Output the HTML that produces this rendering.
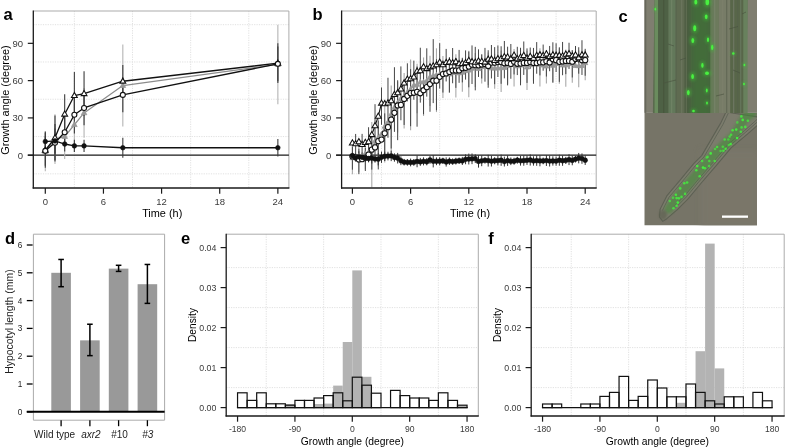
<!DOCTYPE html>
<html><head><meta charset="utf-8"><style>
html,body{margin:0;padding:0;background:#fff;overflow:hidden;}
svg{display:block;}
</style></head><body>
<svg width="785" height="447" viewBox="0 0 785 447" font-family='"Liberation Sans", Arial, sans-serif'>
<rect width="785" height="447" fill="#fff"/>
<line x1="74.37" y1="11.00" x2="74.37" y2="188.00" stroke="#dedede" stroke-width="0.9" stroke-dasharray="1.2,1.2"/>
<line x1="132.51" y1="11.00" x2="132.51" y2="188.00" stroke="#dedede" stroke-width="0.9" stroke-dasharray="1.2,1.2"/>
<line x1="190.65" y1="11.00" x2="190.65" y2="188.00" stroke="#dedede" stroke-width="0.9" stroke-dasharray="1.2,1.2"/>
<line x1="248.79" y1="11.00" x2="248.79" y2="188.00" stroke="#dedede" stroke-width="0.9" stroke-dasharray="1.2,1.2"/>
<line x1="33.30" y1="173.84" x2="288.90" y2="173.84" stroke="#dedede" stroke-width="0.9" stroke-dasharray="1.2,1.2"/>
<line x1="33.30" y1="136.55" x2="288.90" y2="136.55" stroke="#dedede" stroke-width="0.9" stroke-dasharray="1.2,1.2"/>
<line x1="33.30" y1="99.26" x2="288.90" y2="99.26" stroke="#dedede" stroke-width="0.9" stroke-dasharray="1.2,1.2"/>
<line x1="33.30" y1="61.97" x2="288.90" y2="61.97" stroke="#dedede" stroke-width="0.9" stroke-dasharray="1.2,1.2"/>
<line x1="33.30" y1="24.68" x2="288.90" y2="24.68" stroke="#dedede" stroke-width="0.9" stroke-dasharray="1.2,1.2"/>
<line x1="33.30" y1="11.00" x2="288.90" y2="11.00" stroke="#ababab" stroke-width="1.0" />
<line x1="288.90" y1="11.00" x2="288.90" y2="188.00" stroke="#ababab" stroke-width="1.0" />
<line x1="27.80" y1="155.20" x2="288.90" y2="155.20" stroke="#1a1a1a" stroke-width="1.3" />
<text x="3.60" y="20.00" font-size="16.5" fill="#000" text-anchor="start" font-weight="bold">a</text>
<line x1="45.30" y1="131.58" x2="45.30" y2="171.36" stroke="#b4b4b4" stroke-width="1.1" />
<line x1="54.99" y1="114.18" x2="54.99" y2="163.90" stroke="#b4b4b4" stroke-width="1.1" />
<line x1="64.68" y1="114.18" x2="64.68" y2="158.93" stroke="#b4b4b4" stroke-width="1.1" />
<line x1="74.37" y1="97.40" x2="74.37" y2="152.09" stroke="#b4b4b4" stroke-width="1.1" />
<line x1="84.06" y1="88.08" x2="84.06" y2="137.80" stroke="#b4b4b4" stroke-width="1.1" />
<line x1="122.82" y1="44.57" x2="122.82" y2="126.61" stroke="#b4b4b4" stroke-width="1.1" />
<line x1="277.86" y1="24.68" x2="277.86" y2="104.24" stroke="#b4b4b4" stroke-width="1.1" />
<line x1="45.30" y1="132.83" x2="45.30" y2="167.63" stroke="#3c3c3c" stroke-width="1.1" />
<line x1="45.30" y1="135.93" x2="45.30" y2="165.77" stroke="#3c3c3c" stroke-width="1.1" />
<line x1="45.30" y1="131.58" x2="45.30" y2="151.47" stroke="#3c3c3c" stroke-width="1.1" />
<line x1="54.99" y1="115.42" x2="54.99" y2="160.17" stroke="#3c3c3c" stroke-width="1.1" />
<line x1="54.99" y1="124.12" x2="54.99" y2="161.41" stroke="#3c3c3c" stroke-width="1.1" />
<line x1="54.99" y1="128.48" x2="54.99" y2="153.34" stroke="#3c3c3c" stroke-width="1.1" />
<line x1="64.68" y1="94.29" x2="64.68" y2="134.07" stroke="#3c3c3c" stroke-width="1.1" />
<line x1="64.68" y1="117.29" x2="64.68" y2="147.12" stroke="#3c3c3c" stroke-width="1.1" />
<line x1="64.68" y1="136.55" x2="64.68" y2="151.47" stroke="#3c3c3c" stroke-width="1.1" />
<line x1="74.37" y1="71.92" x2="74.37" y2="119.15" stroke="#3c3c3c" stroke-width="1.1" />
<line x1="74.37" y1="96.16" x2="74.37" y2="133.45" stroke="#3c3c3c" stroke-width="1.1" />
<line x1="74.37" y1="139.66" x2="74.37" y2="152.09" stroke="#3c3c3c" stroke-width="1.1" />
<line x1="84.06" y1="71.30" x2="84.06" y2="116.05" stroke="#3c3c3c" stroke-width="1.1" />
<line x1="84.06" y1="90.56" x2="84.06" y2="125.37" stroke="#3c3c3c" stroke-width="1.1" />
<line x1="84.06" y1="139.66" x2="84.06" y2="152.09" stroke="#3c3c3c" stroke-width="1.1" />
<line x1="122.82" y1="65.08" x2="122.82" y2="97.40" stroke="#3c3c3c" stroke-width="1.1" />
<line x1="122.82" y1="77.51" x2="122.82" y2="112.32" stroke="#3c3c3c" stroke-width="1.1" />
<line x1="122.82" y1="137.80" x2="122.82" y2="157.69" stroke="#3c3c3c" stroke-width="1.1" />
<line x1="277.86" y1="43.33" x2="277.86" y2="83.11" stroke="#3c3c3c" stroke-width="1.1" />
<line x1="277.86" y1="46.44" x2="277.86" y2="81.24" stroke="#3c3c3c" stroke-width="1.1" />
<line x1="277.86" y1="139.04" x2="277.86" y2="156.44" stroke="#3c3c3c" stroke-width="1.1" />
<polyline points="45.30,151.47 54.99,139.04 64.68,136.55 74.37,124.75 84.06,112.94 122.82,85.59 277.86,64.46" fill="none" stroke="#8c8c8c" stroke-width="1.2" stroke-linejoin="round"/>
<polyline points="45.30,141.53 54.99,140.91 64.68,144.01 74.37,145.88 84.06,145.88 122.82,147.74 277.86,147.74" fill="none" stroke="#111" stroke-width="1.3" stroke-linejoin="round"/>
<polyline points="45.30,150.85 54.99,142.77 64.68,132.20 74.37,114.80 84.06,107.97 122.82,94.91 277.86,63.84" fill="none" stroke="#111" stroke-width="1.3" stroke-linejoin="round"/>
<polyline points="45.30,150.23 54.99,137.80 64.68,114.18 74.37,95.54 84.06,93.67 122.82,81.24 277.86,63.22" fill="none" stroke="#111" stroke-width="1.3" stroke-linejoin="round"/>
<polygon points="45.30,148.46 42.50,153.31 48.10,153.31" fill="#999" stroke="#999" stroke-width="0.8" stroke-linejoin="miter"/>
<polygon points="54.99,136.03 52.19,140.88 57.79,140.88" fill="#999" stroke="#999" stroke-width="0.8" stroke-linejoin="miter"/>
<polygon points="64.68,133.55 61.88,138.40 67.48,138.40" fill="#999" stroke="#999" stroke-width="0.8" stroke-linejoin="miter"/>
<polygon points="74.37,121.74 71.57,126.59 77.17,126.59" fill="#999" stroke="#999" stroke-width="0.8" stroke-linejoin="miter"/>
<polygon points="84.06,109.93 81.26,114.78 86.86,114.78" fill="#999" stroke="#999" stroke-width="0.8" stroke-linejoin="miter"/>
<polygon points="122.82,82.59 120.02,87.43 125.62,87.43" fill="#999" stroke="#999" stroke-width="0.8" stroke-linejoin="miter"/>
<polygon points="277.86,61.45 275.06,66.30 280.66,66.30" fill="#999" stroke="#999" stroke-width="0.8" stroke-linejoin="miter"/>
<polygon points="45.30,147.11 42.40,152.14 48.20,152.14" fill="#fff" stroke="#111" stroke-width="1.1" stroke-linejoin="miter"/>
<polygon points="54.99,134.68 52.09,139.71 57.89,139.71" fill="#fff" stroke="#111" stroke-width="1.1" stroke-linejoin="miter"/>
<polygon points="64.68,111.07 61.78,116.09 67.58,116.09" fill="#fff" stroke="#111" stroke-width="1.1" stroke-linejoin="miter"/>
<polygon points="74.37,92.42 71.47,97.44 77.27,97.44" fill="#fff" stroke="#111" stroke-width="1.1" stroke-linejoin="miter"/>
<polygon points="84.06,90.56 81.16,95.58 86.96,95.58" fill="#fff" stroke="#111" stroke-width="1.1" stroke-linejoin="miter"/>
<polygon points="122.82,78.13 119.92,83.15 125.72,83.15" fill="#fff" stroke="#111" stroke-width="1.1" stroke-linejoin="miter"/>
<polygon points="277.86,60.10 274.96,65.13 280.76,65.13" fill="#fff" stroke="#111" stroke-width="1.1" stroke-linejoin="miter"/>
<circle cx="45.30" cy="150.85" r="2.5" fill="#fff" stroke="#111" stroke-width="1.1"/>
<circle cx="54.99" cy="142.77" r="2.5" fill="#fff" stroke="#111" stroke-width="1.1"/>
<circle cx="64.68" cy="132.20" r="2.5" fill="#fff" stroke="#111" stroke-width="1.1"/>
<circle cx="74.37" cy="114.80" r="2.5" fill="#fff" stroke="#111" stroke-width="1.1"/>
<circle cx="84.06" cy="107.97" r="2.5" fill="#fff" stroke="#111" stroke-width="1.1"/>
<circle cx="122.82" cy="94.91" r="2.5" fill="#fff" stroke="#111" stroke-width="1.1"/>
<circle cx="277.86" cy="63.84" r="2.5" fill="#fff" stroke="#111" stroke-width="1.1"/>
<circle cx="45.30" cy="141.53" r="2.3" fill="#111" stroke="#111" stroke-width="0.6"/>
<circle cx="54.99" cy="140.91" r="2.3" fill="#111" stroke="#111" stroke-width="0.6"/>
<circle cx="64.68" cy="144.01" r="2.3" fill="#111" stroke="#111" stroke-width="0.6"/>
<circle cx="74.37" cy="145.88" r="2.3" fill="#111" stroke="#111" stroke-width="0.6"/>
<circle cx="84.06" cy="145.88" r="2.3" fill="#111" stroke="#111" stroke-width="0.6"/>
<circle cx="122.82" cy="147.74" r="2.3" fill="#111" stroke="#111" stroke-width="0.6"/>
<circle cx="277.86" cy="147.74" r="2.3" fill="#111" stroke="#111" stroke-width="0.6"/>
<line x1="33.30" y1="10.50" x2="33.30" y2="188.60" stroke="#1a1a1a" stroke-width="1.3" />
<line x1="32.70" y1="188.00" x2="289.40" y2="188.00" stroke="#1a1a1a" stroke-width="1.3" />
<line x1="27.80" y1="155.20" x2="33.30" y2="155.20" stroke="#1a1a1a" stroke-width="1.2" />
<text x="23.00" y="158.70" font-size="9.5" fill="#3a3a3a" text-anchor="end" >0</text>
<line x1="27.80" y1="117.91" x2="33.30" y2="117.91" stroke="#1a1a1a" stroke-width="1.2" />
<text x="23.00" y="121.41" font-size="9.5" fill="#3a3a3a" text-anchor="end" >30</text>
<line x1="27.80" y1="80.62" x2="33.30" y2="80.62" stroke="#1a1a1a" stroke-width="1.2" />
<text x="23.00" y="84.12" font-size="9.5" fill="#3a3a3a" text-anchor="end" >60</text>
<line x1="27.80" y1="43.33" x2="33.30" y2="43.33" stroke="#1a1a1a" stroke-width="1.2" />
<text x="23.00" y="46.83" font-size="9.5" fill="#3a3a3a" text-anchor="end" >90</text>
<line x1="45.30" y1="188.00" x2="45.30" y2="193.70" stroke="#1a1a1a" stroke-width="1.2" />
<text x="45.30" y="205.40" font-size="9.5" fill="#3a3a3a" text-anchor="middle" >0</text>
<line x1="103.44" y1="188.00" x2="103.44" y2="193.70" stroke="#1a1a1a" stroke-width="1.2" />
<text x="103.44" y="205.40" font-size="9.5" fill="#3a3a3a" text-anchor="middle" >6</text>
<line x1="161.58" y1="188.00" x2="161.58" y2="193.70" stroke="#1a1a1a" stroke-width="1.2" />
<text x="161.58" y="205.40" font-size="9.5" fill="#3a3a3a" text-anchor="middle" >12</text>
<line x1="219.72" y1="188.00" x2="219.72" y2="193.70" stroke="#1a1a1a" stroke-width="1.2" />
<text x="219.72" y="205.40" font-size="9.5" fill="#3a3a3a" text-anchor="middle" >18</text>
<line x1="277.86" y1="188.00" x2="277.86" y2="193.70" stroke="#1a1a1a" stroke-width="1.2" />
<text x="277.86" y="205.40" font-size="9.5" fill="#3a3a3a" text-anchor="middle" >24</text>
<text x="162.20" y="217.30" font-size="10.9" fill="#000" text-anchor="middle" >Time (h)</text>
<text transform="translate(9.0,100.0) rotate(-90)" font-size="10.95" text-anchor="middle" fill="#000">Growth angle (degree)</text>
<line x1="381.50" y1="11.00" x2="381.50" y2="188.00" stroke="#dedede" stroke-width="0.9" stroke-dasharray="1.2,1.2"/>
<line x1="439.70" y1="11.00" x2="439.70" y2="188.00" stroke="#dedede" stroke-width="0.9" stroke-dasharray="1.2,1.2"/>
<line x1="497.90" y1="11.00" x2="497.90" y2="188.00" stroke="#dedede" stroke-width="0.9" stroke-dasharray="1.2,1.2"/>
<line x1="556.10" y1="11.00" x2="556.10" y2="188.00" stroke="#dedede" stroke-width="0.9" stroke-dasharray="1.2,1.2"/>
<line x1="341.60" y1="173.84" x2="596.20" y2="173.84" stroke="#dedede" stroke-width="0.9" stroke-dasharray="1.2,1.2"/>
<line x1="341.60" y1="136.55" x2="596.20" y2="136.55" stroke="#dedede" stroke-width="0.9" stroke-dasharray="1.2,1.2"/>
<line x1="341.60" y1="99.26" x2="596.20" y2="99.26" stroke="#dedede" stroke-width="0.9" stroke-dasharray="1.2,1.2"/>
<line x1="341.60" y1="61.97" x2="596.20" y2="61.97" stroke="#dedede" stroke-width="0.9" stroke-dasharray="1.2,1.2"/>
<line x1="341.60" y1="24.68" x2="596.20" y2="24.68" stroke="#dedede" stroke-width="0.9" stroke-dasharray="1.2,1.2"/>
<line x1="341.60" y1="11.00" x2="596.20" y2="11.00" stroke="#ababab" stroke-width="1.0" />
<line x1="596.20" y1="11.00" x2="596.20" y2="188.00" stroke="#ababab" stroke-width="1.0" />
<line x1="336.10" y1="155.20" x2="596.20" y2="155.20" stroke="#1a1a1a" stroke-width="1.3" />
<text x="312.60" y="20.00" font-size="16.5" fill="#000" text-anchor="start" font-weight="bold">b</text>
<line x1="352.40" y1="146.09" x2="352.40" y2="174.35" stroke="#a9a9a9" stroke-width="1.1" />
<line x1="358.87" y1="144.80" x2="358.87" y2="172.33" stroke="#a9a9a9" stroke-width="1.1" />
<line x1="365.33" y1="142.02" x2="365.33" y2="169.56" stroke="#a9a9a9" stroke-width="1.1" />
<line x1="371.80" y1="122.01" x2="371.80" y2="187.35" stroke="#a9a9a9" stroke-width="1.1" />
<line x1="378.27" y1="116.94" x2="378.27" y2="166.23" stroke="#a9a9a9" stroke-width="1.1" />
<line x1="384.73" y1="100.27" x2="384.73" y2="162.45" stroke="#a9a9a9" stroke-width="1.1" />
<line x1="391.20" y1="85.50" x2="391.20" y2="153.36" stroke="#a9a9a9" stroke-width="1.1" />
<line x1="397.67" y1="81.43" x2="397.67" y2="132.38" stroke="#a9a9a9" stroke-width="1.1" />
<line x1="404.13" y1="73.06" x2="404.13" y2="128.56" stroke="#a9a9a9" stroke-width="1.1" />
<line x1="410.60" y1="59.60" x2="410.60" y2="130.19" stroke="#a9a9a9" stroke-width="1.1" />
<line x1="417.07" y1="63.82" x2="417.07" y2="113.28" stroke="#a9a9a9" stroke-width="1.1" />
<line x1="423.53" y1="57.45" x2="423.53" y2="115.95" stroke="#a9a9a9" stroke-width="1.1" />
<line x1="430.00" y1="55.78" x2="430.00" y2="106.12" stroke="#a9a9a9" stroke-width="1.1" />
<line x1="436.47" y1="48.31" x2="436.47" y2="112.08" stroke="#a9a9a9" stroke-width="1.1" />
<line x1="442.93" y1="55.89" x2="442.93" y2="98.02" stroke="#a9a9a9" stroke-width="1.1" />
<line x1="449.40" y1="60.52" x2="449.40" y2="92.97" stroke="#a9a9a9" stroke-width="1.1" />
<line x1="455.87" y1="54.19" x2="455.87" y2="97.58" stroke="#a9a9a9" stroke-width="1.1" />
<line x1="462.33" y1="58.42" x2="462.33" y2="91.70" stroke="#a9a9a9" stroke-width="1.1" />
<line x1="468.80" y1="50.81" x2="468.80" y2="97.17" stroke="#a9a9a9" stroke-width="1.1" />
<line x1="475.27" y1="52.89" x2="475.27" y2="86.90" stroke="#a9a9a9" stroke-width="1.1" />
<line x1="481.73" y1="54.57" x2="481.73" y2="83.54" stroke="#a9a9a9" stroke-width="1.1" />
<line x1="488.20" y1="52.43" x2="488.20" y2="85.09" stroke="#a9a9a9" stroke-width="1.1" />
<line x1="494.67" y1="53.64" x2="494.67" y2="88.71" stroke="#a9a9a9" stroke-width="1.1" />
<line x1="501.13" y1="50.54" x2="501.13" y2="91.94" stroke="#a9a9a9" stroke-width="1.1" />
<line x1="507.60" y1="52.93" x2="507.60" y2="83.65" stroke="#a9a9a9" stroke-width="1.1" />
<line x1="514.07" y1="49.09" x2="514.07" y2="86.52" stroke="#a9a9a9" stroke-width="1.1" />
<line x1="520.53" y1="52.81" x2="520.53" y2="82.57" stroke="#a9a9a9" stroke-width="1.1" />
<line x1="527.00" y1="50.70" x2="527.00" y2="90.01" stroke="#a9a9a9" stroke-width="1.1" />
<line x1="533.47" y1="51.55" x2="533.47" y2="81.04" stroke="#a9a9a9" stroke-width="1.1" />
<line x1="539.93" y1="48.17" x2="539.93" y2="86.62" stroke="#a9a9a9" stroke-width="1.1" />
<line x1="546.40" y1="53.79" x2="546.40" y2="83.46" stroke="#a9a9a9" stroke-width="1.1" />
<line x1="552.87" y1="53.22" x2="552.87" y2="82.63" stroke="#a9a9a9" stroke-width="1.1" />
<line x1="559.33" y1="48.14" x2="559.33" y2="83.71" stroke="#a9a9a9" stroke-width="1.1" />
<line x1="565.80" y1="49.49" x2="565.80" y2="86.65" stroke="#a9a9a9" stroke-width="1.1" />
<line x1="572.27" y1="50.10" x2="572.27" y2="82.71" stroke="#a9a9a9" stroke-width="1.1" />
<line x1="578.73" y1="50.49" x2="578.73" y2="87.23" stroke="#a9a9a9" stroke-width="1.1" />
<line x1="585.20" y1="50.28" x2="585.20" y2="80.37" stroke="#a9a9a9" stroke-width="1.1" />
<line x1="352.40" y1="146.88" x2="352.40" y2="169.65" stroke="#454545" stroke-width="1.0" />
<line x1="352.40" y1="152.57" x2="352.40" y2="159.10" stroke="#333" stroke-width="1.0" />
<line x1="355.63" y1="133.94" x2="355.63" y2="157.45" stroke="#454545" stroke-width="1.0" />
<line x1="355.63" y1="153.48" x2="355.63" y2="161.64" stroke="#333" stroke-width="1.0" />
<line x1="358.87" y1="148.74" x2="358.87" y2="174.13" stroke="#454545" stroke-width="1.0" />
<line x1="358.87" y1="151.32" x2="358.87" y2="162.26" stroke="#333" stroke-width="1.0" />
<line x1="362.10" y1="133.88" x2="362.10" y2="158.99" stroke="#454545" stroke-width="1.0" />
<line x1="362.10" y1="152.57" x2="362.10" y2="161.89" stroke="#333" stroke-width="1.0" />
<line x1="365.33" y1="147.92" x2="365.33" y2="171.00" stroke="#454545" stroke-width="1.0" />
<line x1="365.33" y1="153.68" x2="365.33" y2="162.06" stroke="#333" stroke-width="1.0" />
<line x1="368.57" y1="127.23" x2="368.57" y2="161.80" stroke="#454545" stroke-width="1.0" />
<line x1="368.57" y1="154.59" x2="368.57" y2="162.37" stroke="#333" stroke-width="1.0" />
<line x1="371.80" y1="135.10" x2="371.80" y2="169.59" stroke="#454545" stroke-width="1.0" />
<line x1="371.80" y1="152.70" x2="371.80" y2="163.47" stroke="#333" stroke-width="1.0" />
<line x1="375.03" y1="104.18" x2="375.03" y2="155.37" stroke="#454545" stroke-width="1.0" />
<line x1="375.03" y1="155.22" x2="375.03" y2="162.61" stroke="#333" stroke-width="1.0" />
<line x1="378.27" y1="120.63" x2="378.27" y2="169.44" stroke="#454545" stroke-width="1.0" />
<line x1="378.27" y1="153.14" x2="378.27" y2="165.16" stroke="#333" stroke-width="1.0" />
<line x1="381.50" y1="87.45" x2="381.50" y2="124.77" stroke="#454545" stroke-width="1.0" />
<line x1="381.50" y1="151.59" x2="381.50" y2="162.90" stroke="#333" stroke-width="1.0" />
<line x1="384.73" y1="113.37" x2="384.73" y2="160.85" stroke="#454545" stroke-width="1.0" />
<line x1="384.73" y1="151.67" x2="384.73" y2="160.96" stroke="#333" stroke-width="1.0" />
<line x1="387.97" y1="77.76" x2="387.97" y2="137.78" stroke="#454545" stroke-width="1.0" />
<line x1="387.97" y1="151.75" x2="387.97" y2="160.41" stroke="#333" stroke-width="1.0" />
<line x1="391.20" y1="98.71" x2="391.20" y2="148.51" stroke="#454545" stroke-width="1.0" />
<line x1="391.20" y1="150.65" x2="391.20" y2="161.14" stroke="#333" stroke-width="1.0" />
<line x1="394.43" y1="67.23" x2="394.43" y2="131.86" stroke="#454545" stroke-width="1.0" />
<line x1="394.43" y1="153.33" x2="394.43" y2="161.68" stroke="#333" stroke-width="1.0" />
<line x1="397.67" y1="80.22" x2="397.67" y2="140.17" stroke="#454545" stroke-width="1.0" />
<line x1="397.67" y1="152.89" x2="397.67" y2="163.49" stroke="#333" stroke-width="1.0" />
<line x1="400.90" y1="66.40" x2="400.90" y2="120.24" stroke="#454545" stroke-width="1.0" />
<line x1="400.90" y1="156.40" x2="400.90" y2="165.13" stroke="#333" stroke-width="1.0" />
<line x1="404.13" y1="80.11" x2="404.13" y2="124.95" stroke="#454545" stroke-width="1.0" />
<line x1="404.13" y1="158.92" x2="404.13" y2="165.47" stroke="#333" stroke-width="1.0" />
<line x1="407.37" y1="63.30" x2="407.37" y2="101.36" stroke="#454545" stroke-width="1.0" />
<line x1="407.37" y1="159.00" x2="407.37" y2="165.65" stroke="#333" stroke-width="1.0" />
<line x1="410.60" y1="69.11" x2="410.60" y2="126.21" stroke="#454545" stroke-width="1.0" />
<line x1="410.60" y1="158.55" x2="410.60" y2="166.35" stroke="#333" stroke-width="1.0" />
<line x1="413.83" y1="60.61" x2="413.83" y2="99.71" stroke="#454545" stroke-width="1.0" />
<line x1="413.83" y1="158.98" x2="413.83" y2="165.72" stroke="#333" stroke-width="1.0" />
<line x1="417.07" y1="66.46" x2="417.07" y2="126.69" stroke="#454545" stroke-width="1.0" />
<line x1="417.07" y1="155.64" x2="417.07" y2="167.26" stroke="#333" stroke-width="1.0" />
<line x1="420.30" y1="47.72" x2="420.30" y2="102.63" stroke="#454545" stroke-width="1.0" />
<line x1="420.30" y1="157.91" x2="420.30" y2="165.88" stroke="#333" stroke-width="1.0" />
<line x1="423.53" y1="72.71" x2="423.53" y2="114.27" stroke="#454545" stroke-width="1.0" />
<line x1="423.53" y1="157.35" x2="423.53" y2="165.39" stroke="#333" stroke-width="1.0" />
<line x1="426.77" y1="48.30" x2="426.77" y2="96.63" stroke="#454545" stroke-width="1.0" />
<line x1="426.77" y1="158.14" x2="426.77" y2="165.33" stroke="#333" stroke-width="1.0" />
<line x1="430.00" y1="63.88" x2="430.00" y2="111.79" stroke="#454545" stroke-width="1.0" />
<line x1="430.00" y1="156.05" x2="430.00" y2="163.90" stroke="#333" stroke-width="1.0" />
<line x1="433.23" y1="39.11" x2="433.23" y2="103.10" stroke="#454545" stroke-width="1.0" />
<line x1="433.23" y1="155.16" x2="433.23" y2="167.42" stroke="#333" stroke-width="1.0" />
<line x1="436.47" y1="59.19" x2="436.47" y2="110.26" stroke="#454545" stroke-width="1.0" />
<line x1="436.47" y1="157.42" x2="436.47" y2="165.16" stroke="#333" stroke-width="1.0" />
<line x1="439.70" y1="43.13" x2="439.70" y2="88.54" stroke="#454545" stroke-width="1.0" />
<line x1="439.70" y1="157.18" x2="439.70" y2="165.32" stroke="#333" stroke-width="1.0" />
<line x1="442.93" y1="60.60" x2="442.93" y2="92.56" stroke="#454545" stroke-width="1.0" />
<line x1="442.93" y1="157.71" x2="442.93" y2="163.93" stroke="#333" stroke-width="1.0" />
<line x1="446.17" y1="48.92" x2="446.17" y2="81.44" stroke="#454545" stroke-width="1.0" />
<line x1="446.17" y1="157.40" x2="446.17" y2="166.57" stroke="#333" stroke-width="1.0" />
<line x1="449.40" y1="57.16" x2="449.40" y2="92.35" stroke="#454545" stroke-width="1.0" />
<line x1="449.40" y1="157.47" x2="449.40" y2="164.94" stroke="#333" stroke-width="1.0" />
<line x1="452.63" y1="48.03" x2="452.63" y2="83.26" stroke="#454545" stroke-width="1.0" />
<line x1="452.63" y1="158.50" x2="452.63" y2="164.74" stroke="#333" stroke-width="1.0" />
<line x1="455.87" y1="57.94" x2="455.87" y2="87.87" stroke="#454545" stroke-width="1.0" />
<line x1="455.87" y1="157.76" x2="455.87" y2="164.53" stroke="#333" stroke-width="1.0" />
<line x1="459.10" y1="49.92" x2="459.10" y2="82.83" stroke="#454545" stroke-width="1.0" />
<line x1="459.10" y1="157.51" x2="459.10" y2="163.98" stroke="#333" stroke-width="1.0" />
<line x1="462.33" y1="57.79" x2="462.33" y2="82.38" stroke="#454545" stroke-width="1.0" />
<line x1="462.33" y1="156.90" x2="462.33" y2="165.01" stroke="#333" stroke-width="1.0" />
<line x1="465.57" y1="50.38" x2="465.57" y2="79.61" stroke="#454545" stroke-width="1.0" />
<line x1="465.57" y1="154.39" x2="465.57" y2="164.25" stroke="#333" stroke-width="1.0" />
<line x1="468.80" y1="51.55" x2="468.80" y2="87.32" stroke="#454545" stroke-width="1.0" />
<line x1="468.80" y1="153.59" x2="468.80" y2="164.47" stroke="#333" stroke-width="1.0" />
<line x1="472.03" y1="45.42" x2="472.03" y2="84.03" stroke="#454545" stroke-width="1.0" />
<line x1="472.03" y1="153.49" x2="472.03" y2="164.15" stroke="#333" stroke-width="1.0" />
<line x1="475.27" y1="46.85" x2="475.27" y2="90.35" stroke="#454545" stroke-width="1.0" />
<line x1="475.27" y1="154.40" x2="475.27" y2="163.04" stroke="#333" stroke-width="1.0" />
<line x1="478.50" y1="49.35" x2="478.50" y2="76.96" stroke="#454545" stroke-width="1.0" />
<line x1="478.50" y1="155.28" x2="478.50" y2="167.61" stroke="#333" stroke-width="1.0" />
<line x1="481.73" y1="54.35" x2="481.73" y2="78.52" stroke="#454545" stroke-width="1.0" />
<line x1="481.73" y1="155.49" x2="481.73" y2="166.20" stroke="#333" stroke-width="1.0" />
<line x1="484.97" y1="47.90" x2="484.97" y2="81.69" stroke="#454545" stroke-width="1.0" />
<line x1="484.97" y1="157.10" x2="484.97" y2="163.59" stroke="#333" stroke-width="1.0" />
<line x1="488.20" y1="50.23" x2="488.20" y2="87.76" stroke="#454545" stroke-width="1.0" />
<line x1="488.20" y1="154.80" x2="488.20" y2="166.56" stroke="#333" stroke-width="1.0" />
<line x1="491.43" y1="45.00" x2="491.43" y2="78.48" stroke="#454545" stroke-width="1.0" />
<line x1="491.43" y1="155.75" x2="491.43" y2="166.53" stroke="#333" stroke-width="1.0" />
<line x1="494.67" y1="47.12" x2="494.67" y2="84.20" stroke="#454545" stroke-width="1.0" />
<line x1="494.67" y1="157.22" x2="494.67" y2="164.30" stroke="#333" stroke-width="1.0" />
<line x1="497.90" y1="45.50" x2="497.90" y2="76.96" stroke="#454545" stroke-width="1.0" />
<line x1="497.90" y1="156.01" x2="497.90" y2="165.36" stroke="#333" stroke-width="1.0" />
<line x1="501.13" y1="46.28" x2="501.13" y2="83.80" stroke="#454545" stroke-width="1.0" />
<line x1="501.13" y1="154.62" x2="501.13" y2="165.84" stroke="#333" stroke-width="1.0" />
<line x1="504.37" y1="40.98" x2="504.37" y2="78.33" stroke="#454545" stroke-width="1.0" />
<line x1="504.37" y1="156.65" x2="504.37" y2="166.50" stroke="#333" stroke-width="1.0" />
<line x1="507.60" y1="46.70" x2="507.60" y2="85.35" stroke="#454545" stroke-width="1.0" />
<line x1="507.60" y1="155.44" x2="507.60" y2="165.90" stroke="#333" stroke-width="1.0" />
<line x1="510.83" y1="44.00" x2="510.83" y2="78.77" stroke="#454545" stroke-width="1.0" />
<line x1="510.83" y1="157.47" x2="510.83" y2="165.12" stroke="#333" stroke-width="1.0" />
<line x1="514.07" y1="52.58" x2="514.07" y2="74.44" stroke="#454545" stroke-width="1.0" />
<line x1="514.07" y1="157.72" x2="514.07" y2="164.76" stroke="#333" stroke-width="1.0" />
<line x1="517.30" y1="46.80" x2="517.30" y2="75.09" stroke="#454545" stroke-width="1.0" />
<line x1="517.30" y1="156.82" x2="517.30" y2="163.69" stroke="#333" stroke-width="1.0" />
<line x1="520.53" y1="47.78" x2="520.53" y2="85.32" stroke="#454545" stroke-width="1.0" />
<line x1="520.53" y1="155.94" x2="520.53" y2="165.62" stroke="#333" stroke-width="1.0" />
<line x1="523.77" y1="41.48" x2="523.77" y2="74.96" stroke="#454545" stroke-width="1.0" />
<line x1="523.77" y1="155.62" x2="523.77" y2="165.72" stroke="#333" stroke-width="1.0" />
<line x1="527.00" y1="48.39" x2="527.00" y2="82.91" stroke="#454545" stroke-width="1.0" />
<line x1="527.00" y1="155.65" x2="527.00" y2="164.90" stroke="#333" stroke-width="1.0" />
<line x1="530.23" y1="47.52" x2="530.23" y2="68.84" stroke="#454545" stroke-width="1.0" />
<line x1="530.23" y1="154.42" x2="530.23" y2="165.59" stroke="#333" stroke-width="1.0" />
<line x1="533.47" y1="47.93" x2="533.47" y2="83.77" stroke="#454545" stroke-width="1.0" />
<line x1="533.47" y1="156.30" x2="533.47" y2="165.64" stroke="#333" stroke-width="1.0" />
<line x1="536.70" y1="42.08" x2="536.70" y2="73.76" stroke="#454545" stroke-width="1.0" />
<line x1="536.70" y1="155.51" x2="536.70" y2="165.82" stroke="#333" stroke-width="1.0" />
<line x1="539.93" y1="52.85" x2="539.93" y2="75.39" stroke="#454545" stroke-width="1.0" />
<line x1="539.93" y1="155.51" x2="539.93" y2="166.30" stroke="#333" stroke-width="1.0" />
<line x1="543.17" y1="44.55" x2="543.17" y2="70.72" stroke="#454545" stroke-width="1.0" />
<line x1="543.17" y1="157.59" x2="543.17" y2="164.26" stroke="#333" stroke-width="1.0" />
<line x1="546.40" y1="50.11" x2="546.40" y2="76.54" stroke="#454545" stroke-width="1.0" />
<line x1="546.40" y1="155.22" x2="546.40" y2="165.97" stroke="#333" stroke-width="1.0" />
<line x1="549.63" y1="45.96" x2="549.63" y2="71.21" stroke="#454545" stroke-width="1.0" />
<line x1="549.63" y1="155.70" x2="549.63" y2="166.51" stroke="#333" stroke-width="1.0" />
<line x1="552.87" y1="42.28" x2="552.87" y2="82.54" stroke="#454545" stroke-width="1.0" />
<line x1="552.87" y1="156.33" x2="552.87" y2="165.62" stroke="#333" stroke-width="1.0" />
<line x1="556.10" y1="43.25" x2="556.10" y2="71.96" stroke="#454545" stroke-width="1.0" />
<line x1="556.10" y1="156.52" x2="556.10" y2="165.71" stroke="#333" stroke-width="1.0" />
<line x1="559.33" y1="47.28" x2="559.33" y2="81.85" stroke="#454545" stroke-width="1.0" />
<line x1="559.33" y1="154.74" x2="559.33" y2="165.72" stroke="#333" stroke-width="1.0" />
<line x1="562.57" y1="41.94" x2="562.57" y2="75.22" stroke="#454545" stroke-width="1.0" />
<line x1="562.57" y1="155.63" x2="562.57" y2="165.84" stroke="#333" stroke-width="1.0" />
<line x1="565.80" y1="51.41" x2="565.80" y2="74.17" stroke="#454545" stroke-width="1.0" />
<line x1="565.80" y1="156.85" x2="565.80" y2="163.98" stroke="#333" stroke-width="1.0" />
<line x1="569.03" y1="42.74" x2="569.03" y2="68.94" stroke="#454545" stroke-width="1.0" />
<line x1="569.03" y1="154.25" x2="569.03" y2="165.08" stroke="#333" stroke-width="1.0" />
<line x1="572.27" y1="50.28" x2="572.27" y2="77.46" stroke="#454545" stroke-width="1.0" />
<line x1="572.27" y1="155.53" x2="572.27" y2="165.27" stroke="#333" stroke-width="1.0" />
<line x1="575.50" y1="45.97" x2="575.50" y2="67.47" stroke="#454545" stroke-width="1.0" />
<line x1="575.50" y1="155.89" x2="575.50" y2="162.48" stroke="#333" stroke-width="1.0" />
<line x1="578.73" y1="47.22" x2="578.73" y2="73.71" stroke="#454545" stroke-width="1.0" />
<line x1="578.73" y1="152.96" x2="578.73" y2="163.35" stroke="#333" stroke-width="1.0" />
<line x1="581.97" y1="40.23" x2="581.97" y2="74.97" stroke="#454545" stroke-width="1.0" />
<line x1="581.97" y1="153.41" x2="581.97" y2="163.82" stroke="#333" stroke-width="1.0" />
<line x1="585.20" y1="48.84" x2="585.20" y2="75.76" stroke="#454545" stroke-width="1.0" />
<line x1="585.20" y1="155.56" x2="585.20" y2="164.98" stroke="#333" stroke-width="1.0" />
<polyline points="352.40,157.99 355.63,157.61 358.87,156.39 362.10,156.36 365.33,153.62 368.57,152.56 371.80,149.52 375.03,141.09 378.27,137.69 381.50,134.14 384.73,126.45 387.97,122.16 391.20,114.08 394.43,107.42 397.67,102.88 400.90,98.53 404.13,96.43 407.37,92.30 410.60,89.32 413.83,85.41 417.07,84.64 420.30,82.07 423.53,82.08 426.77,80.82 430.00,76.97 433.23,75.50 436.47,75.16 439.70,74.51 442.93,73.63 446.17,73.10 449.40,74.18 452.63,72.47 455.87,72.46 459.10,73.05 462.33,72.44 465.57,70.88 468.80,70.33 472.03,68.46 475.27,67.21 478.50,68.85 481.73,66.77 484.97,66.32 488.20,66.18 491.43,68.13 494.67,68.40 497.90,68.12 501.13,67.97 504.37,67.69 507.60,65.86 510.83,64.73 514.07,64.85 517.30,66.09 520.53,65.34 523.77,64.69 527.00,67.25 530.23,65.00 533.47,63.97 536.70,64.34 539.93,64.36 543.17,65.27 546.40,66.28 549.63,63.95 552.87,65.60 556.10,63.81 559.33,63.12 562.57,65.21 565.80,65.14 569.03,63.05 572.27,63.83 575.50,65.85 578.73,65.96 581.97,65.81 585.20,62.95" fill="none" stroke="#8c8c8c" stroke-width="1.1" stroke-linejoin="round"/>
<polyline points="352.40,155.83 355.63,157.56 358.87,156.79 362.10,157.23 365.33,157.87 368.57,158.48 371.80,158.09 375.03,158.92 378.27,159.15 381.50,157.25 384.73,156.31 387.97,156.08 391.20,155.89 394.43,157.51 397.67,158.19 400.90,160.77 404.13,162.20 407.37,162.32 410.60,162.45 413.83,162.35 417.07,161.45 420.30,161.89 423.53,161.37 426.77,161.73 430.00,159.98 433.23,161.29 436.47,161.29 439.70,161.25 442.93,160.82 446.17,161.99 449.40,161.21 452.63,161.62 455.87,161.14 459.10,160.75 462.33,160.95 465.57,159.32 468.80,159.03 472.03,158.82 475.27,158.72 478.50,161.45 481.73,160.85 484.97,160.35 488.20,160.68 491.43,161.14 494.67,160.76 497.90,160.68 501.13,160.23 504.37,161.58 507.60,160.67 510.83,161.29 514.07,161.24 517.30,160.25 520.53,160.78 523.77,160.67 527.00,160.28 530.23,160.00 533.47,160.97 536.70,160.66 539.93,160.91 543.17,160.92 546.40,160.60 549.63,161.11 552.87,160.98 556.10,161.12 559.33,160.23 562.57,160.74 565.80,160.42 569.03,159.67 572.27,160.40 575.50,159.18 578.73,158.15 581.97,158.62 585.20,160.27" fill="none" stroke="#111" stroke-width="1.2" stroke-linejoin="round"/>
<polyline points="352.40,156.47 355.63,157.27 358.87,159.43 362.10,159.21 365.33,157.64 368.57,154.58 371.80,149.63 375.03,147.41 378.27,141.18 381.50,139.61 384.73,133.36 387.97,127.13 391.20,119.68 394.43,112.80 397.67,105.46 400.90,104.91 404.13,98.99 407.37,95.87 410.60,93.15 413.83,92.76 417.07,91.82 420.30,93.27 423.53,90.21 426.77,87.17 430.00,84.05 433.23,80.73 436.47,80.69 439.70,76.87 442.93,74.06 446.17,73.48 449.40,71.98 452.63,70.46 455.87,70.54 459.10,70.38 462.33,68.15 465.57,67.84 468.80,66.61 472.03,64.68 475.27,65.16 478.50,65.32 481.73,64.53 484.97,64.01 488.20,66.04 491.43,62.59 494.67,62.74 497.90,62.09 501.13,62.08 504.37,63.29 507.60,62.97 510.83,63.92 514.07,61.78 517.30,63.76 520.53,63.59 523.77,62.91 527.00,62.92 530.23,62.11 533.47,63.02 536.70,63.06 539.93,62.34 543.17,62.37 546.40,61.24 549.63,62.45 552.87,59.23 556.10,60.15 559.33,61.84 562.57,61.40 565.80,60.99 569.03,60.88 572.27,61.72 575.50,58.96 578.73,58.38 581.97,60.29 585.20,60.17" fill="none" stroke="#111" stroke-width="1.1" stroke-linejoin="round"/>
<polyline points="352.40,142.94 355.63,143.84 358.87,141.73 362.10,144.45 365.33,142.51 368.57,141.79 371.80,134.67 375.03,125.73 378.27,116.33 381.50,103.17 384.73,103.68 387.97,103.03 391.20,100.85 394.43,94.44 397.67,92.80 400.90,89.07 404.13,83.00 407.37,79.33 410.60,78.76 413.83,77.07 417.07,71.18 420.30,70.84 423.53,66.86 426.77,68.65 430.00,66.90 433.23,66.06 436.47,64.86 439.70,62.25 442.93,64.75 446.17,62.61 449.40,62.01 452.63,62.86 455.87,61.83 459.10,63.78 462.33,63.57 465.57,62.69 468.80,60.55 472.03,61.68 475.27,62.19 478.50,60.97 481.73,61.56 484.97,62.13 488.20,59.29 491.43,59.10 494.67,60.57 497.90,58.74 501.13,58.62 504.37,56.71 507.60,57.01 510.83,58.64 514.07,55.20 517.30,58.71 520.53,57.23 523.77,55.58 527.00,58.15 530.23,56.50 533.47,58.37 536.70,55.42 539.93,54.85 543.17,55.57 546.40,54.08 549.63,56.59 552.87,54.89 556.10,55.34 559.33,55.40 562.57,55.96 565.80,54.24 569.03,53.77 572.27,55.88 575.50,55.03 578.73,57.73 581.97,54.86 585.20,55.10" fill="none" stroke="#111" stroke-width="1.1" stroke-linejoin="round"/>
<polygon points="352.40,155.20 349.80,159.70 355.00,159.70" fill="#999" stroke="#999" stroke-width="0.8" stroke-linejoin="miter"/>
<polygon points="355.63,154.82 353.03,159.32 358.23,159.32" fill="#999" stroke="#999" stroke-width="0.8" stroke-linejoin="miter"/>
<polygon points="358.87,153.60 356.27,158.10 361.47,158.10" fill="#999" stroke="#999" stroke-width="0.8" stroke-linejoin="miter"/>
<polygon points="362.10,153.57 359.50,158.08 364.70,158.08" fill="#999" stroke="#999" stroke-width="0.8" stroke-linejoin="miter"/>
<polygon points="365.33,150.83 362.73,155.33 367.93,155.33" fill="#999" stroke="#999" stroke-width="0.8" stroke-linejoin="miter"/>
<polygon points="368.57,149.76 365.97,154.27 371.17,154.27" fill="#999" stroke="#999" stroke-width="0.8" stroke-linejoin="miter"/>
<polygon points="371.80,146.73 369.20,151.23 374.40,151.23" fill="#999" stroke="#999" stroke-width="0.8" stroke-linejoin="miter"/>
<polygon points="375.03,138.30 372.43,142.80 377.63,142.80" fill="#999" stroke="#999" stroke-width="0.8" stroke-linejoin="miter"/>
<polygon points="378.27,134.90 375.67,139.40 380.87,139.40" fill="#999" stroke="#999" stroke-width="0.8" stroke-linejoin="miter"/>
<polygon points="381.50,131.35 378.90,135.86 384.10,135.86" fill="#999" stroke="#999" stroke-width="0.8" stroke-linejoin="miter"/>
<polygon points="384.73,123.66 382.13,128.16 387.33,128.16" fill="#999" stroke="#999" stroke-width="0.8" stroke-linejoin="miter"/>
<polygon points="387.97,119.37 385.37,123.87 390.57,123.87" fill="#999" stroke="#999" stroke-width="0.8" stroke-linejoin="miter"/>
<polygon points="391.20,111.28 388.60,115.79 393.80,115.79" fill="#999" stroke="#999" stroke-width="0.8" stroke-linejoin="miter"/>
<polygon points="394.43,104.63 391.83,109.14 397.03,109.14" fill="#999" stroke="#999" stroke-width="0.8" stroke-linejoin="miter"/>
<polygon points="397.67,100.09 395.07,104.59 400.27,104.59" fill="#999" stroke="#999" stroke-width="0.8" stroke-linejoin="miter"/>
<polygon points="400.90,95.74 398.30,100.24 403.50,100.24" fill="#999" stroke="#999" stroke-width="0.8" stroke-linejoin="miter"/>
<polygon points="404.13,93.63 401.53,98.14 406.73,98.14" fill="#999" stroke="#999" stroke-width="0.8" stroke-linejoin="miter"/>
<polygon points="407.37,89.51 404.77,94.02 409.97,94.02" fill="#999" stroke="#999" stroke-width="0.8" stroke-linejoin="miter"/>
<polygon points="410.60,86.53 408.00,91.03 413.20,91.03" fill="#999" stroke="#999" stroke-width="0.8" stroke-linejoin="miter"/>
<polygon points="413.83,82.61 411.23,87.12 416.43,87.12" fill="#999" stroke="#999" stroke-width="0.8" stroke-linejoin="miter"/>
<polygon points="417.07,81.85 414.47,86.35 419.67,86.35" fill="#999" stroke="#999" stroke-width="0.8" stroke-linejoin="miter"/>
<polygon points="420.30,79.27 417.70,83.78 422.90,83.78" fill="#999" stroke="#999" stroke-width="0.8" stroke-linejoin="miter"/>
<polygon points="423.53,79.29 420.93,83.80 426.13,83.80" fill="#999" stroke="#999" stroke-width="0.8" stroke-linejoin="miter"/>
<polygon points="426.77,78.03 424.17,82.54 429.37,82.54" fill="#999" stroke="#999" stroke-width="0.8" stroke-linejoin="miter"/>
<polygon points="430.00,74.18 427.40,78.68 432.60,78.68" fill="#999" stroke="#999" stroke-width="0.8" stroke-linejoin="miter"/>
<polygon points="433.23,72.71 430.63,77.21 435.83,77.21" fill="#999" stroke="#999" stroke-width="0.8" stroke-linejoin="miter"/>
<polygon points="436.47,72.37 433.87,76.87 439.07,76.87" fill="#999" stroke="#999" stroke-width="0.8" stroke-linejoin="miter"/>
<polygon points="439.70,71.71 437.10,76.22 442.30,76.22" fill="#999" stroke="#999" stroke-width="0.8" stroke-linejoin="miter"/>
<polygon points="442.93,70.84 440.33,75.34 445.53,75.34" fill="#999" stroke="#999" stroke-width="0.8" stroke-linejoin="miter"/>
<polygon points="446.17,70.30 443.57,74.81 448.77,74.81" fill="#999" stroke="#999" stroke-width="0.8" stroke-linejoin="miter"/>
<polygon points="449.40,71.39 446.80,75.89 452.00,75.89" fill="#999" stroke="#999" stroke-width="0.8" stroke-linejoin="miter"/>
<polygon points="452.63,69.68 450.03,74.19 455.23,74.19" fill="#999" stroke="#999" stroke-width="0.8" stroke-linejoin="miter"/>
<polygon points="455.87,69.67 453.27,74.17 458.47,74.17" fill="#999" stroke="#999" stroke-width="0.8" stroke-linejoin="miter"/>
<polygon points="459.10,70.26 456.50,74.77 461.70,74.77" fill="#999" stroke="#999" stroke-width="0.8" stroke-linejoin="miter"/>
<polygon points="462.33,69.64 459.73,74.15 464.93,74.15" fill="#999" stroke="#999" stroke-width="0.8" stroke-linejoin="miter"/>
<polygon points="465.57,68.09 462.97,72.59 468.17,72.59" fill="#999" stroke="#999" stroke-width="0.8" stroke-linejoin="miter"/>
<polygon points="468.80,67.54 466.20,72.04 471.40,72.04" fill="#999" stroke="#999" stroke-width="0.8" stroke-linejoin="miter"/>
<polygon points="472.03,65.66 469.43,70.17 474.63,70.17" fill="#999" stroke="#999" stroke-width="0.8" stroke-linejoin="miter"/>
<polygon points="475.27,64.42 472.67,68.92 477.87,68.92" fill="#999" stroke="#999" stroke-width="0.8" stroke-linejoin="miter"/>
<polygon points="478.50,66.06 475.90,70.56 481.10,70.56" fill="#999" stroke="#999" stroke-width="0.8" stroke-linejoin="miter"/>
<polygon points="481.73,63.98 479.13,68.48 484.33,68.48" fill="#999" stroke="#999" stroke-width="0.8" stroke-linejoin="miter"/>
<polygon points="484.97,63.53 482.37,68.03 487.57,68.03" fill="#999" stroke="#999" stroke-width="0.8" stroke-linejoin="miter"/>
<polygon points="488.20,63.39 485.60,67.89 490.80,67.89" fill="#999" stroke="#999" stroke-width="0.8" stroke-linejoin="miter"/>
<polygon points="491.43,65.33 488.83,69.84 494.03,69.84" fill="#999" stroke="#999" stroke-width="0.8" stroke-linejoin="miter"/>
<polygon points="494.67,65.61 492.07,70.11 497.27,70.11" fill="#999" stroke="#999" stroke-width="0.8" stroke-linejoin="miter"/>
<polygon points="497.90,65.33 495.30,69.83 500.50,69.83" fill="#999" stroke="#999" stroke-width="0.8" stroke-linejoin="miter"/>
<polygon points="501.13,65.18 498.53,69.69 503.73,69.69" fill="#999" stroke="#999" stroke-width="0.8" stroke-linejoin="miter"/>
<polygon points="504.37,64.89 501.77,69.40 506.97,69.40" fill="#999" stroke="#999" stroke-width="0.8" stroke-linejoin="miter"/>
<polygon points="507.60,63.07 505.00,67.57 510.20,67.57" fill="#999" stroke="#999" stroke-width="0.8" stroke-linejoin="miter"/>
<polygon points="510.83,61.94 508.23,66.44 513.43,66.44" fill="#999" stroke="#999" stroke-width="0.8" stroke-linejoin="miter"/>
<polygon points="514.07,62.06 511.47,66.56 516.67,66.56" fill="#999" stroke="#999" stroke-width="0.8" stroke-linejoin="miter"/>
<polygon points="517.30,63.30 514.70,67.80 519.90,67.80" fill="#999" stroke="#999" stroke-width="0.8" stroke-linejoin="miter"/>
<polygon points="520.53,62.55 517.93,67.05 523.13,67.05" fill="#999" stroke="#999" stroke-width="0.8" stroke-linejoin="miter"/>
<polygon points="523.77,61.90 521.17,66.40 526.37,66.40" fill="#999" stroke="#999" stroke-width="0.8" stroke-linejoin="miter"/>
<polygon points="527.00,64.46 524.40,68.96 529.60,68.96" fill="#999" stroke="#999" stroke-width="0.8" stroke-linejoin="miter"/>
<polygon points="530.23,62.21 527.63,66.71 532.83,66.71" fill="#999" stroke="#999" stroke-width="0.8" stroke-linejoin="miter"/>
<polygon points="533.47,61.18 530.87,65.68 536.07,65.68" fill="#999" stroke="#999" stroke-width="0.8" stroke-linejoin="miter"/>
<polygon points="536.70,61.55 534.10,66.05 539.30,66.05" fill="#999" stroke="#999" stroke-width="0.8" stroke-linejoin="miter"/>
<polygon points="539.93,61.56 537.33,66.07 542.53,66.07" fill="#999" stroke="#999" stroke-width="0.8" stroke-linejoin="miter"/>
<polygon points="543.17,62.48 540.57,66.98 545.77,66.98" fill="#999" stroke="#999" stroke-width="0.8" stroke-linejoin="miter"/>
<polygon points="546.40,63.49 543.80,67.99 549.00,67.99" fill="#999" stroke="#999" stroke-width="0.8" stroke-linejoin="miter"/>
<polygon points="549.63,61.16 547.03,65.66 552.23,65.66" fill="#999" stroke="#999" stroke-width="0.8" stroke-linejoin="miter"/>
<polygon points="552.87,62.81 550.27,67.31 555.47,67.31" fill="#999" stroke="#999" stroke-width="0.8" stroke-linejoin="miter"/>
<polygon points="556.10,61.01 553.50,65.52 558.70,65.52" fill="#999" stroke="#999" stroke-width="0.8" stroke-linejoin="miter"/>
<polygon points="559.33,60.32 556.73,64.83 561.93,64.83" fill="#999" stroke="#999" stroke-width="0.8" stroke-linejoin="miter"/>
<polygon points="562.57,62.42 559.97,66.92 565.17,66.92" fill="#999" stroke="#999" stroke-width="0.8" stroke-linejoin="miter"/>
<polygon points="565.80,62.35 563.20,66.85 568.40,66.85" fill="#999" stroke="#999" stroke-width="0.8" stroke-linejoin="miter"/>
<polygon points="569.03,60.26 566.43,64.77 571.63,64.77" fill="#999" stroke="#999" stroke-width="0.8" stroke-linejoin="miter"/>
<polygon points="572.27,61.04 569.67,65.54 574.87,65.54" fill="#999" stroke="#999" stroke-width="0.8" stroke-linejoin="miter"/>
<polygon points="575.50,63.05 572.90,67.56 578.10,67.56" fill="#999" stroke="#999" stroke-width="0.8" stroke-linejoin="miter"/>
<polygon points="578.73,63.16 576.13,67.67 581.33,67.67" fill="#999" stroke="#999" stroke-width="0.8" stroke-linejoin="miter"/>
<polygon points="581.97,63.02 579.37,67.52 584.57,67.52" fill="#999" stroke="#999" stroke-width="0.8" stroke-linejoin="miter"/>
<polygon points="585.20,60.16 582.60,64.66 587.80,64.66" fill="#999" stroke="#999" stroke-width="0.8" stroke-linejoin="miter"/>
<circle cx="352.40" cy="156.47" r="2.6" fill="#fff" stroke="#111" stroke-width="1.05"/>
<circle cx="355.63" cy="157.27" r="2.6" fill="#fff" stroke="#111" stroke-width="1.05"/>
<circle cx="358.87" cy="159.43" r="2.6" fill="#fff" stroke="#111" stroke-width="1.05"/>
<circle cx="362.10" cy="159.21" r="2.6" fill="#fff" stroke="#111" stroke-width="1.05"/>
<circle cx="365.33" cy="157.64" r="2.6" fill="#fff" stroke="#111" stroke-width="1.05"/>
<circle cx="368.57" cy="154.58" r="2.6" fill="#fff" stroke="#111" stroke-width="1.05"/>
<circle cx="371.80" cy="149.63" r="2.6" fill="#fff" stroke="#111" stroke-width="1.05"/>
<circle cx="375.03" cy="147.41" r="2.6" fill="#fff" stroke="#111" stroke-width="1.05"/>
<circle cx="378.27" cy="141.18" r="2.6" fill="#fff" stroke="#111" stroke-width="1.05"/>
<circle cx="381.50" cy="139.61" r="2.6" fill="#fff" stroke="#111" stroke-width="1.05"/>
<circle cx="384.73" cy="133.36" r="2.6" fill="#fff" stroke="#111" stroke-width="1.05"/>
<circle cx="387.97" cy="127.13" r="2.6" fill="#fff" stroke="#111" stroke-width="1.05"/>
<circle cx="391.20" cy="119.68" r="2.6" fill="#fff" stroke="#111" stroke-width="1.05"/>
<circle cx="394.43" cy="112.80" r="2.6" fill="#fff" stroke="#111" stroke-width="1.05"/>
<circle cx="397.67" cy="105.46" r="2.6" fill="#fff" stroke="#111" stroke-width="1.05"/>
<circle cx="400.90" cy="104.91" r="2.6" fill="#fff" stroke="#111" stroke-width="1.05"/>
<circle cx="404.13" cy="98.99" r="2.6" fill="#fff" stroke="#111" stroke-width="1.05"/>
<circle cx="407.37" cy="95.87" r="2.6" fill="#fff" stroke="#111" stroke-width="1.05"/>
<circle cx="410.60" cy="93.15" r="2.6" fill="#fff" stroke="#111" stroke-width="1.05"/>
<circle cx="413.83" cy="92.76" r="2.6" fill="#fff" stroke="#111" stroke-width="1.05"/>
<circle cx="417.07" cy="91.82" r="2.6" fill="#fff" stroke="#111" stroke-width="1.05"/>
<circle cx="420.30" cy="93.27" r="2.6" fill="#fff" stroke="#111" stroke-width="1.05"/>
<circle cx="423.53" cy="90.21" r="2.6" fill="#fff" stroke="#111" stroke-width="1.05"/>
<circle cx="426.77" cy="87.17" r="2.6" fill="#fff" stroke="#111" stroke-width="1.05"/>
<circle cx="430.00" cy="84.05" r="2.6" fill="#fff" stroke="#111" stroke-width="1.05"/>
<circle cx="433.23" cy="80.73" r="2.6" fill="#fff" stroke="#111" stroke-width="1.05"/>
<circle cx="436.47" cy="80.69" r="2.6" fill="#fff" stroke="#111" stroke-width="1.05"/>
<circle cx="439.70" cy="76.87" r="2.6" fill="#fff" stroke="#111" stroke-width="1.05"/>
<circle cx="442.93" cy="74.06" r="2.6" fill="#fff" stroke="#111" stroke-width="1.05"/>
<circle cx="446.17" cy="73.48" r="2.6" fill="#fff" stroke="#111" stroke-width="1.05"/>
<circle cx="449.40" cy="71.98" r="2.6" fill="#fff" stroke="#111" stroke-width="1.05"/>
<circle cx="452.63" cy="70.46" r="2.6" fill="#fff" stroke="#111" stroke-width="1.05"/>
<circle cx="455.87" cy="70.54" r="2.6" fill="#fff" stroke="#111" stroke-width="1.05"/>
<circle cx="459.10" cy="70.38" r="2.6" fill="#fff" stroke="#111" stroke-width="1.05"/>
<circle cx="462.33" cy="68.15" r="2.6" fill="#fff" stroke="#111" stroke-width="1.05"/>
<circle cx="465.57" cy="67.84" r="2.6" fill="#fff" stroke="#111" stroke-width="1.05"/>
<circle cx="468.80" cy="66.61" r="2.6" fill="#fff" stroke="#111" stroke-width="1.05"/>
<circle cx="472.03" cy="64.68" r="2.6" fill="#fff" stroke="#111" stroke-width="1.05"/>
<circle cx="475.27" cy="65.16" r="2.6" fill="#fff" stroke="#111" stroke-width="1.05"/>
<circle cx="478.50" cy="65.32" r="2.6" fill="#fff" stroke="#111" stroke-width="1.05"/>
<circle cx="481.73" cy="64.53" r="2.6" fill="#fff" stroke="#111" stroke-width="1.05"/>
<circle cx="484.97" cy="64.01" r="2.6" fill="#fff" stroke="#111" stroke-width="1.05"/>
<circle cx="488.20" cy="66.04" r="2.6" fill="#fff" stroke="#111" stroke-width="1.05"/>
<circle cx="491.43" cy="62.59" r="2.6" fill="#fff" stroke="#111" stroke-width="1.05"/>
<circle cx="494.67" cy="62.74" r="2.6" fill="#fff" stroke="#111" stroke-width="1.05"/>
<circle cx="497.90" cy="62.09" r="2.6" fill="#fff" stroke="#111" stroke-width="1.05"/>
<circle cx="501.13" cy="62.08" r="2.6" fill="#fff" stroke="#111" stroke-width="1.05"/>
<circle cx="504.37" cy="63.29" r="2.6" fill="#fff" stroke="#111" stroke-width="1.05"/>
<circle cx="507.60" cy="62.97" r="2.6" fill="#fff" stroke="#111" stroke-width="1.05"/>
<circle cx="510.83" cy="63.92" r="2.6" fill="#fff" stroke="#111" stroke-width="1.05"/>
<circle cx="514.07" cy="61.78" r="2.6" fill="#fff" stroke="#111" stroke-width="1.05"/>
<circle cx="517.30" cy="63.76" r="2.6" fill="#fff" stroke="#111" stroke-width="1.05"/>
<circle cx="520.53" cy="63.59" r="2.6" fill="#fff" stroke="#111" stroke-width="1.05"/>
<circle cx="523.77" cy="62.91" r="2.6" fill="#fff" stroke="#111" stroke-width="1.05"/>
<circle cx="527.00" cy="62.92" r="2.6" fill="#fff" stroke="#111" stroke-width="1.05"/>
<circle cx="530.23" cy="62.11" r="2.6" fill="#fff" stroke="#111" stroke-width="1.05"/>
<circle cx="533.47" cy="63.02" r="2.6" fill="#fff" stroke="#111" stroke-width="1.05"/>
<circle cx="536.70" cy="63.06" r="2.6" fill="#fff" stroke="#111" stroke-width="1.05"/>
<circle cx="539.93" cy="62.34" r="2.6" fill="#fff" stroke="#111" stroke-width="1.05"/>
<circle cx="543.17" cy="62.37" r="2.6" fill="#fff" stroke="#111" stroke-width="1.05"/>
<circle cx="546.40" cy="61.24" r="2.6" fill="#fff" stroke="#111" stroke-width="1.05"/>
<circle cx="549.63" cy="62.45" r="2.6" fill="#fff" stroke="#111" stroke-width="1.05"/>
<circle cx="552.87" cy="59.23" r="2.6" fill="#fff" stroke="#111" stroke-width="1.05"/>
<circle cx="556.10" cy="60.15" r="2.6" fill="#fff" stroke="#111" stroke-width="1.05"/>
<circle cx="559.33" cy="61.84" r="2.6" fill="#fff" stroke="#111" stroke-width="1.05"/>
<circle cx="562.57" cy="61.40" r="2.6" fill="#fff" stroke="#111" stroke-width="1.05"/>
<circle cx="565.80" cy="60.99" r="2.6" fill="#fff" stroke="#111" stroke-width="1.05"/>
<circle cx="569.03" cy="60.88" r="2.6" fill="#fff" stroke="#111" stroke-width="1.05"/>
<circle cx="572.27" cy="61.72" r="2.6" fill="#fff" stroke="#111" stroke-width="1.05"/>
<circle cx="575.50" cy="58.96" r="2.6" fill="#fff" stroke="#111" stroke-width="1.05"/>
<circle cx="578.73" cy="58.38" r="2.6" fill="#fff" stroke="#111" stroke-width="1.05"/>
<circle cx="581.97" cy="60.29" r="2.6" fill="#fff" stroke="#111" stroke-width="1.05"/>
<circle cx="585.20" cy="60.17" r="2.6" fill="#fff" stroke="#111" stroke-width="1.05"/>
<polygon points="352.40,139.72 349.40,144.91 355.40,144.91" fill="#fff" stroke="#111" stroke-width="1.05" stroke-linejoin="miter"/>
<polygon points="355.63,140.62 352.63,145.81 358.63,145.81" fill="#fff" stroke="#111" stroke-width="1.05" stroke-linejoin="miter"/>
<polygon points="358.87,138.51 355.87,143.71 361.87,143.71" fill="#fff" stroke="#111" stroke-width="1.05" stroke-linejoin="miter"/>
<polygon points="362.10,141.23 359.10,146.42 365.10,146.42" fill="#fff" stroke="#111" stroke-width="1.05" stroke-linejoin="miter"/>
<polygon points="365.33,139.28 362.33,144.48 368.33,144.48" fill="#fff" stroke="#111" stroke-width="1.05" stroke-linejoin="miter"/>
<polygon points="368.57,138.56 365.57,143.76 371.57,143.76" fill="#fff" stroke="#111" stroke-width="1.05" stroke-linejoin="miter"/>
<polygon points="371.80,131.45 368.80,136.64 374.80,136.64" fill="#fff" stroke="#111" stroke-width="1.05" stroke-linejoin="miter"/>
<polygon points="375.03,122.51 372.03,127.71 378.03,127.71" fill="#fff" stroke="#111" stroke-width="1.05" stroke-linejoin="miter"/>
<polygon points="378.27,113.11 375.27,118.31 381.27,118.31" fill="#fff" stroke="#111" stroke-width="1.05" stroke-linejoin="miter"/>
<polygon points="381.50,99.95 378.50,105.14 384.50,105.14" fill="#fff" stroke="#111" stroke-width="1.05" stroke-linejoin="miter"/>
<polygon points="384.73,100.45 381.73,105.65 387.73,105.65" fill="#fff" stroke="#111" stroke-width="1.05" stroke-linejoin="miter"/>
<polygon points="387.97,99.81 384.97,105.00 390.97,105.00" fill="#fff" stroke="#111" stroke-width="1.05" stroke-linejoin="miter"/>
<polygon points="391.20,97.62 388.20,102.82 394.20,102.82" fill="#fff" stroke="#111" stroke-width="1.05" stroke-linejoin="miter"/>
<polygon points="394.43,91.22 391.43,96.42 397.43,96.42" fill="#fff" stroke="#111" stroke-width="1.05" stroke-linejoin="miter"/>
<polygon points="397.67,89.58 394.67,94.78 400.67,94.78" fill="#fff" stroke="#111" stroke-width="1.05" stroke-linejoin="miter"/>
<polygon points="400.90,85.85 397.90,91.04 403.90,91.04" fill="#fff" stroke="#111" stroke-width="1.05" stroke-linejoin="miter"/>
<polygon points="404.13,79.78 401.13,84.97 407.13,84.97" fill="#fff" stroke="#111" stroke-width="1.05" stroke-linejoin="miter"/>
<polygon points="407.37,76.11 404.37,81.30 410.37,81.30" fill="#fff" stroke="#111" stroke-width="1.05" stroke-linejoin="miter"/>
<polygon points="410.60,75.53 407.60,80.73 413.60,80.73" fill="#fff" stroke="#111" stroke-width="1.05" stroke-linejoin="miter"/>
<polygon points="413.83,73.85 410.83,79.05 416.83,79.05" fill="#fff" stroke="#111" stroke-width="1.05" stroke-linejoin="miter"/>
<polygon points="417.07,67.96 414.07,73.16 420.07,73.16" fill="#fff" stroke="#111" stroke-width="1.05" stroke-linejoin="miter"/>
<polygon points="420.30,67.62 417.30,72.81 423.30,72.81" fill="#fff" stroke="#111" stroke-width="1.05" stroke-linejoin="miter"/>
<polygon points="423.53,63.64 420.53,68.84 426.53,68.84" fill="#fff" stroke="#111" stroke-width="1.05" stroke-linejoin="miter"/>
<polygon points="426.77,65.43 423.77,70.63 429.77,70.63" fill="#fff" stroke="#111" stroke-width="1.05" stroke-linejoin="miter"/>
<polygon points="430.00,63.68 427.00,68.87 433.00,68.87" fill="#fff" stroke="#111" stroke-width="1.05" stroke-linejoin="miter"/>
<polygon points="433.23,62.83 430.23,68.03 436.23,68.03" fill="#fff" stroke="#111" stroke-width="1.05" stroke-linejoin="miter"/>
<polygon points="436.47,61.64 433.47,66.83 439.47,66.83" fill="#fff" stroke="#111" stroke-width="1.05" stroke-linejoin="miter"/>
<polygon points="439.70,59.03 436.70,64.22 442.70,64.22" fill="#fff" stroke="#111" stroke-width="1.05" stroke-linejoin="miter"/>
<polygon points="442.93,61.53 439.93,66.72 445.93,66.72" fill="#fff" stroke="#111" stroke-width="1.05" stroke-linejoin="miter"/>
<polygon points="446.17,59.39 443.17,64.59 449.17,64.59" fill="#fff" stroke="#111" stroke-width="1.05" stroke-linejoin="miter"/>
<polygon points="449.40,58.79 446.40,63.99 452.40,63.99" fill="#fff" stroke="#111" stroke-width="1.05" stroke-linejoin="miter"/>
<polygon points="452.63,59.64 449.63,64.84 455.63,64.84" fill="#fff" stroke="#111" stroke-width="1.05" stroke-linejoin="miter"/>
<polygon points="455.87,58.61 452.87,63.81 458.87,63.81" fill="#fff" stroke="#111" stroke-width="1.05" stroke-linejoin="miter"/>
<polygon points="459.10,60.56 456.10,65.75 462.10,65.75" fill="#fff" stroke="#111" stroke-width="1.05" stroke-linejoin="miter"/>
<polygon points="462.33,60.35 459.33,65.54 465.33,65.54" fill="#fff" stroke="#111" stroke-width="1.05" stroke-linejoin="miter"/>
<polygon points="465.57,59.47 462.57,64.67 468.57,64.67" fill="#fff" stroke="#111" stroke-width="1.05" stroke-linejoin="miter"/>
<polygon points="468.80,57.32 465.80,62.52 471.80,62.52" fill="#fff" stroke="#111" stroke-width="1.05" stroke-linejoin="miter"/>
<polygon points="472.03,58.46 469.03,63.65 475.03,63.65" fill="#fff" stroke="#111" stroke-width="1.05" stroke-linejoin="miter"/>
<polygon points="475.27,58.96 472.27,64.16 478.27,64.16" fill="#fff" stroke="#111" stroke-width="1.05" stroke-linejoin="miter"/>
<polygon points="478.50,57.75 475.50,62.95 481.50,62.95" fill="#fff" stroke="#111" stroke-width="1.05" stroke-linejoin="miter"/>
<polygon points="481.73,58.34 478.73,63.54 484.73,63.54" fill="#fff" stroke="#111" stroke-width="1.05" stroke-linejoin="miter"/>
<polygon points="484.97,58.90 481.97,64.10 487.97,64.10" fill="#fff" stroke="#111" stroke-width="1.05" stroke-linejoin="miter"/>
<polygon points="488.20,56.07 485.20,61.26 491.20,61.26" fill="#fff" stroke="#111" stroke-width="1.05" stroke-linejoin="miter"/>
<polygon points="491.43,55.87 488.43,61.07 494.43,61.07" fill="#fff" stroke="#111" stroke-width="1.05" stroke-linejoin="miter"/>
<polygon points="494.67,57.34 491.67,62.54 497.67,62.54" fill="#fff" stroke="#111" stroke-width="1.05" stroke-linejoin="miter"/>
<polygon points="497.90,55.52 494.90,60.72 500.90,60.72" fill="#fff" stroke="#111" stroke-width="1.05" stroke-linejoin="miter"/>
<polygon points="501.13,55.40 498.13,60.59 504.13,60.59" fill="#fff" stroke="#111" stroke-width="1.05" stroke-linejoin="miter"/>
<polygon points="504.37,53.48 501.37,58.68 507.37,58.68" fill="#fff" stroke="#111" stroke-width="1.05" stroke-linejoin="miter"/>
<polygon points="507.60,53.79 504.60,58.99 510.60,58.99" fill="#fff" stroke="#111" stroke-width="1.05" stroke-linejoin="miter"/>
<polygon points="510.83,55.42 507.83,60.62 513.83,60.62" fill="#fff" stroke="#111" stroke-width="1.05" stroke-linejoin="miter"/>
<polygon points="514.07,51.98 511.07,57.17 517.07,57.17" fill="#fff" stroke="#111" stroke-width="1.05" stroke-linejoin="miter"/>
<polygon points="517.30,55.49 514.30,60.69 520.30,60.69" fill="#fff" stroke="#111" stroke-width="1.05" stroke-linejoin="miter"/>
<polygon points="520.53,54.01 517.53,59.21 523.53,59.21" fill="#fff" stroke="#111" stroke-width="1.05" stroke-linejoin="miter"/>
<polygon points="523.77,52.35 520.77,57.55 526.77,57.55" fill="#fff" stroke="#111" stroke-width="1.05" stroke-linejoin="miter"/>
<polygon points="527.00,54.92 524.00,60.12 530.00,60.12" fill="#fff" stroke="#111" stroke-width="1.05" stroke-linejoin="miter"/>
<polygon points="530.23,53.28 527.23,58.47 533.23,58.47" fill="#fff" stroke="#111" stroke-width="1.05" stroke-linejoin="miter"/>
<polygon points="533.47,55.15 530.47,60.35 536.47,60.35" fill="#fff" stroke="#111" stroke-width="1.05" stroke-linejoin="miter"/>
<polygon points="536.70,52.20 533.70,57.40 539.70,57.40" fill="#fff" stroke="#111" stroke-width="1.05" stroke-linejoin="miter"/>
<polygon points="539.93,51.63 536.93,56.83 542.93,56.83" fill="#fff" stroke="#111" stroke-width="1.05" stroke-linejoin="miter"/>
<polygon points="543.17,52.35 540.17,57.55 546.17,57.55" fill="#fff" stroke="#111" stroke-width="1.05" stroke-linejoin="miter"/>
<polygon points="546.40,50.86 543.40,56.05 549.40,56.05" fill="#fff" stroke="#111" stroke-width="1.05" stroke-linejoin="miter"/>
<polygon points="549.63,53.37 546.63,58.57 552.63,58.57" fill="#fff" stroke="#111" stroke-width="1.05" stroke-linejoin="miter"/>
<polygon points="552.87,51.66 549.87,56.86 555.87,56.86" fill="#fff" stroke="#111" stroke-width="1.05" stroke-linejoin="miter"/>
<polygon points="556.10,52.12 553.10,57.31 559.10,57.31" fill="#fff" stroke="#111" stroke-width="1.05" stroke-linejoin="miter"/>
<polygon points="559.33,52.18 556.33,57.38 562.33,57.38" fill="#fff" stroke="#111" stroke-width="1.05" stroke-linejoin="miter"/>
<polygon points="562.57,52.73 559.57,57.93 565.57,57.93" fill="#fff" stroke="#111" stroke-width="1.05" stroke-linejoin="miter"/>
<polygon points="565.80,51.02 562.80,56.21 568.80,56.21" fill="#fff" stroke="#111" stroke-width="1.05" stroke-linejoin="miter"/>
<polygon points="569.03,50.55 566.03,55.74 572.03,55.74" fill="#fff" stroke="#111" stroke-width="1.05" stroke-linejoin="miter"/>
<polygon points="572.27,52.65 569.27,57.85 575.27,57.85" fill="#fff" stroke="#111" stroke-width="1.05" stroke-linejoin="miter"/>
<polygon points="575.50,51.80 572.50,57.00 578.50,57.00" fill="#fff" stroke="#111" stroke-width="1.05" stroke-linejoin="miter"/>
<polygon points="578.73,54.50 575.73,59.70 581.73,59.70" fill="#fff" stroke="#111" stroke-width="1.05" stroke-linejoin="miter"/>
<polygon points="581.97,51.64 578.97,56.83 584.97,56.83" fill="#fff" stroke="#111" stroke-width="1.05" stroke-linejoin="miter"/>
<polygon points="585.20,51.88 582.20,57.08 588.20,57.08" fill="#fff" stroke="#111" stroke-width="1.05" stroke-linejoin="miter"/>
<circle cx="352.40" cy="155.83" r="2.4" fill="#111" stroke="#111" stroke-width="0.5"/>
<circle cx="355.63" cy="157.56" r="2.4" fill="#111" stroke="#111" stroke-width="0.5"/>
<circle cx="358.87" cy="156.79" r="2.4" fill="#111" stroke="#111" stroke-width="0.5"/>
<circle cx="362.10" cy="157.23" r="2.4" fill="#111" stroke="#111" stroke-width="0.5"/>
<circle cx="365.33" cy="157.87" r="2.4" fill="#111" stroke="#111" stroke-width="0.5"/>
<circle cx="368.57" cy="158.48" r="2.4" fill="#111" stroke="#111" stroke-width="0.5"/>
<circle cx="371.80" cy="158.09" r="2.4" fill="#111" stroke="#111" stroke-width="0.5"/>
<circle cx="375.03" cy="158.92" r="2.4" fill="#111" stroke="#111" stroke-width="0.5"/>
<circle cx="378.27" cy="159.15" r="2.4" fill="#111" stroke="#111" stroke-width="0.5"/>
<circle cx="381.50" cy="157.25" r="2.4" fill="#111" stroke="#111" stroke-width="0.5"/>
<circle cx="384.73" cy="156.31" r="2.4" fill="#111" stroke="#111" stroke-width="0.5"/>
<circle cx="387.97" cy="156.08" r="2.4" fill="#111" stroke="#111" stroke-width="0.5"/>
<circle cx="391.20" cy="155.89" r="2.4" fill="#111" stroke="#111" stroke-width="0.5"/>
<circle cx="394.43" cy="157.51" r="2.4" fill="#111" stroke="#111" stroke-width="0.5"/>
<circle cx="397.67" cy="158.19" r="2.4" fill="#111" stroke="#111" stroke-width="0.5"/>
<circle cx="400.90" cy="160.77" r="2.4" fill="#111" stroke="#111" stroke-width="0.5"/>
<circle cx="404.13" cy="162.20" r="2.4" fill="#111" stroke="#111" stroke-width="0.5"/>
<circle cx="407.37" cy="162.32" r="2.4" fill="#111" stroke="#111" stroke-width="0.5"/>
<circle cx="410.60" cy="162.45" r="2.4" fill="#111" stroke="#111" stroke-width="0.5"/>
<circle cx="413.83" cy="162.35" r="2.4" fill="#111" stroke="#111" stroke-width="0.5"/>
<circle cx="417.07" cy="161.45" r="2.4" fill="#111" stroke="#111" stroke-width="0.5"/>
<circle cx="420.30" cy="161.89" r="2.4" fill="#111" stroke="#111" stroke-width="0.5"/>
<circle cx="423.53" cy="161.37" r="2.4" fill="#111" stroke="#111" stroke-width="0.5"/>
<circle cx="426.77" cy="161.73" r="2.4" fill="#111" stroke="#111" stroke-width="0.5"/>
<circle cx="430.00" cy="159.98" r="2.4" fill="#111" stroke="#111" stroke-width="0.5"/>
<circle cx="433.23" cy="161.29" r="2.4" fill="#111" stroke="#111" stroke-width="0.5"/>
<circle cx="436.47" cy="161.29" r="2.4" fill="#111" stroke="#111" stroke-width="0.5"/>
<circle cx="439.70" cy="161.25" r="2.4" fill="#111" stroke="#111" stroke-width="0.5"/>
<circle cx="442.93" cy="160.82" r="2.4" fill="#111" stroke="#111" stroke-width="0.5"/>
<circle cx="446.17" cy="161.99" r="2.4" fill="#111" stroke="#111" stroke-width="0.5"/>
<circle cx="449.40" cy="161.21" r="2.4" fill="#111" stroke="#111" stroke-width="0.5"/>
<circle cx="452.63" cy="161.62" r="2.4" fill="#111" stroke="#111" stroke-width="0.5"/>
<circle cx="455.87" cy="161.14" r="2.4" fill="#111" stroke="#111" stroke-width="0.5"/>
<circle cx="459.10" cy="160.75" r="2.4" fill="#111" stroke="#111" stroke-width="0.5"/>
<circle cx="462.33" cy="160.95" r="2.4" fill="#111" stroke="#111" stroke-width="0.5"/>
<circle cx="465.57" cy="159.32" r="2.4" fill="#111" stroke="#111" stroke-width="0.5"/>
<circle cx="468.80" cy="159.03" r="2.4" fill="#111" stroke="#111" stroke-width="0.5"/>
<circle cx="472.03" cy="158.82" r="2.4" fill="#111" stroke="#111" stroke-width="0.5"/>
<circle cx="475.27" cy="158.72" r="2.4" fill="#111" stroke="#111" stroke-width="0.5"/>
<circle cx="478.50" cy="161.45" r="2.4" fill="#111" stroke="#111" stroke-width="0.5"/>
<circle cx="481.73" cy="160.85" r="2.4" fill="#111" stroke="#111" stroke-width="0.5"/>
<circle cx="484.97" cy="160.35" r="2.4" fill="#111" stroke="#111" stroke-width="0.5"/>
<circle cx="488.20" cy="160.68" r="2.4" fill="#111" stroke="#111" stroke-width="0.5"/>
<circle cx="491.43" cy="161.14" r="2.4" fill="#111" stroke="#111" stroke-width="0.5"/>
<circle cx="494.67" cy="160.76" r="2.4" fill="#111" stroke="#111" stroke-width="0.5"/>
<circle cx="497.90" cy="160.68" r="2.4" fill="#111" stroke="#111" stroke-width="0.5"/>
<circle cx="501.13" cy="160.23" r="2.4" fill="#111" stroke="#111" stroke-width="0.5"/>
<circle cx="504.37" cy="161.58" r="2.4" fill="#111" stroke="#111" stroke-width="0.5"/>
<circle cx="507.60" cy="160.67" r="2.4" fill="#111" stroke="#111" stroke-width="0.5"/>
<circle cx="510.83" cy="161.29" r="2.4" fill="#111" stroke="#111" stroke-width="0.5"/>
<circle cx="514.07" cy="161.24" r="2.4" fill="#111" stroke="#111" stroke-width="0.5"/>
<circle cx="517.30" cy="160.25" r="2.4" fill="#111" stroke="#111" stroke-width="0.5"/>
<circle cx="520.53" cy="160.78" r="2.4" fill="#111" stroke="#111" stroke-width="0.5"/>
<circle cx="523.77" cy="160.67" r="2.4" fill="#111" stroke="#111" stroke-width="0.5"/>
<circle cx="527.00" cy="160.28" r="2.4" fill="#111" stroke="#111" stroke-width="0.5"/>
<circle cx="530.23" cy="160.00" r="2.4" fill="#111" stroke="#111" stroke-width="0.5"/>
<circle cx="533.47" cy="160.97" r="2.4" fill="#111" stroke="#111" stroke-width="0.5"/>
<circle cx="536.70" cy="160.66" r="2.4" fill="#111" stroke="#111" stroke-width="0.5"/>
<circle cx="539.93" cy="160.91" r="2.4" fill="#111" stroke="#111" stroke-width="0.5"/>
<circle cx="543.17" cy="160.92" r="2.4" fill="#111" stroke="#111" stroke-width="0.5"/>
<circle cx="546.40" cy="160.60" r="2.4" fill="#111" stroke="#111" stroke-width="0.5"/>
<circle cx="549.63" cy="161.11" r="2.4" fill="#111" stroke="#111" stroke-width="0.5"/>
<circle cx="552.87" cy="160.98" r="2.4" fill="#111" stroke="#111" stroke-width="0.5"/>
<circle cx="556.10" cy="161.12" r="2.4" fill="#111" stroke="#111" stroke-width="0.5"/>
<circle cx="559.33" cy="160.23" r="2.4" fill="#111" stroke="#111" stroke-width="0.5"/>
<circle cx="562.57" cy="160.74" r="2.4" fill="#111" stroke="#111" stroke-width="0.5"/>
<circle cx="565.80" cy="160.42" r="2.4" fill="#111" stroke="#111" stroke-width="0.5"/>
<circle cx="569.03" cy="159.67" r="2.4" fill="#111" stroke="#111" stroke-width="0.5"/>
<circle cx="572.27" cy="160.40" r="2.4" fill="#111" stroke="#111" stroke-width="0.5"/>
<circle cx="575.50" cy="159.18" r="2.4" fill="#111" stroke="#111" stroke-width="0.5"/>
<circle cx="578.73" cy="158.15" r="2.4" fill="#111" stroke="#111" stroke-width="0.5"/>
<circle cx="581.97" cy="158.62" r="2.4" fill="#111" stroke="#111" stroke-width="0.5"/>
<circle cx="585.20" cy="160.27" r="2.4" fill="#111" stroke="#111" stroke-width="0.5"/>
<line x1="341.60" y1="10.50" x2="341.60" y2="188.60" stroke="#1a1a1a" stroke-width="1.3" />
<line x1="341.00" y1="188.00" x2="596.70" y2="188.00" stroke="#1a1a1a" stroke-width="1.3" />
<line x1="336.10" y1="155.20" x2="341.60" y2="155.20" stroke="#1a1a1a" stroke-width="1.2" />
<text x="331.30" y="158.70" font-size="9.5" fill="#3a3a3a" text-anchor="end" >0</text>
<line x1="336.10" y1="117.91" x2="341.60" y2="117.91" stroke="#1a1a1a" stroke-width="1.2" />
<text x="331.30" y="121.41" font-size="9.5" fill="#3a3a3a" text-anchor="end" >30</text>
<line x1="336.10" y1="80.62" x2="341.60" y2="80.62" stroke="#1a1a1a" stroke-width="1.2" />
<text x="331.30" y="84.12" font-size="9.5" fill="#3a3a3a" text-anchor="end" >60</text>
<line x1="336.10" y1="43.33" x2="341.60" y2="43.33" stroke="#1a1a1a" stroke-width="1.2" />
<text x="331.30" y="46.83" font-size="9.5" fill="#3a3a3a" text-anchor="end" >90</text>
<line x1="352.40" y1="188.00" x2="352.40" y2="193.70" stroke="#1a1a1a" stroke-width="1.2" />
<text x="352.40" y="205.40" font-size="9.5" fill="#3a3a3a" text-anchor="middle" >0</text>
<line x1="410.60" y1="188.00" x2="410.60" y2="193.70" stroke="#1a1a1a" stroke-width="1.2" />
<text x="410.60" y="205.40" font-size="9.5" fill="#3a3a3a" text-anchor="middle" >6</text>
<line x1="468.80" y1="188.00" x2="468.80" y2="193.70" stroke="#1a1a1a" stroke-width="1.2" />
<text x="468.80" y="205.40" font-size="9.5" fill="#3a3a3a" text-anchor="middle" >12</text>
<line x1="527.00" y1="188.00" x2="527.00" y2="193.70" stroke="#1a1a1a" stroke-width="1.2" />
<text x="527.00" y="205.40" font-size="9.5" fill="#3a3a3a" text-anchor="middle" >18</text>
<line x1="585.20" y1="188.00" x2="585.20" y2="193.70" stroke="#1a1a1a" stroke-width="1.2" />
<text x="585.20" y="205.40" font-size="9.5" fill="#3a3a3a" text-anchor="middle" >24</text>
<text x="470.00" y="217.30" font-size="10.9" fill="#000" text-anchor="middle" >Time (h)</text>
<text transform="translate(316.6,100.0) rotate(-90)" font-size="10.95" text-anchor="middle" fill="#000">Growth angle (degree)</text>
<line x1="33.40" y1="234.20" x2="164.60" y2="234.20" stroke="#ababab" stroke-width="1.0" />
<line x1="164.60" y1="234.20" x2="164.60" y2="420.20" stroke="#ababab" stroke-width="1.0" />
<line x1="33.40" y1="234.20" x2="33.40" y2="420.20" stroke="#ababab" stroke-width="1.0" />
<line x1="33.40" y1="420.20" x2="164.60" y2="420.20" stroke="#ababab" stroke-width="1.0" />
<text x="5.00" y="244.20" font-size="16.5" fill="#000" text-anchor="start" font-weight="bold">d</text>
<rect x="51.30" y="272.80" width="19.6" height="139.00" fill="#999999"/>
<rect x="80.10" y="340.35" width="19.6" height="71.45" fill="#999999"/>
<rect x="108.80" y="268.63" width="19.6" height="143.17" fill="#999999"/>
<rect x="137.60" y="284.20" width="19.6" height="127.60" fill="#999999"/>
<line x1="61.10" y1="259.46" x2="61.10" y2="286.70" stroke="#000" stroke-width="1.5" />
<line x1="58.30" y1="259.46" x2="63.90" y2="259.46" stroke="#000" stroke-width="1.5" />
<line x1="58.30" y1="286.70" x2="63.90" y2="286.70" stroke="#000" stroke-width="1.5" />
<line x1="89.90" y1="324.23" x2="89.90" y2="355.64" stroke="#000" stroke-width="1.5" />
<line x1="87.10" y1="324.23" x2="92.70" y2="324.23" stroke="#000" stroke-width="1.5" />
<line x1="87.10" y1="355.64" x2="92.70" y2="355.64" stroke="#000" stroke-width="1.5" />
<line x1="118.60" y1="265.29" x2="118.60" y2="271.41" stroke="#000" stroke-width="1.5" />
<line x1="115.80" y1="265.29" x2="121.40" y2="265.29" stroke="#000" stroke-width="1.5" />
<line x1="115.80" y1="271.41" x2="121.40" y2="271.41" stroke="#000" stroke-width="1.5" />
<line x1="147.40" y1="264.46" x2="147.40" y2="303.38" stroke="#000" stroke-width="1.5" />
<line x1="144.60" y1="264.46" x2="150.20" y2="264.46" stroke="#000" stroke-width="1.5" />
<line x1="144.60" y1="303.38" x2="150.20" y2="303.38" stroke="#000" stroke-width="1.5" />
<line x1="26.80" y1="411.80" x2="164.60" y2="411.80" stroke="#000" stroke-width="2.0" />
<line x1="26.80" y1="411.80" x2="32.60" y2="411.80" stroke="#000" stroke-width="1.3" />
<text x="22.30" y="414.80" font-size="8.2" fill="#222" text-anchor="end" >0</text>
<line x1="26.80" y1="384.00" x2="32.60" y2="384.00" stroke="#000" stroke-width="1.3" />
<text x="22.30" y="387.00" font-size="8.2" fill="#222" text-anchor="end" >1</text>
<line x1="26.80" y1="356.20" x2="32.60" y2="356.20" stroke="#000" stroke-width="1.3" />
<text x="22.30" y="359.20" font-size="8.2" fill="#222" text-anchor="end" >2</text>
<line x1="26.80" y1="328.40" x2="32.60" y2="328.40" stroke="#000" stroke-width="1.3" />
<text x="22.30" y="331.40" font-size="8.2" fill="#222" text-anchor="end" >3</text>
<line x1="26.80" y1="300.60" x2="32.60" y2="300.60" stroke="#000" stroke-width="1.3" />
<text x="22.30" y="303.60" font-size="8.2" fill="#222" text-anchor="end" >4</text>
<line x1="26.80" y1="272.80" x2="32.60" y2="272.80" stroke="#000" stroke-width="1.3" />
<text x="22.30" y="275.80" font-size="8.2" fill="#222" text-anchor="end" >5</text>
<line x1="26.80" y1="245.00" x2="32.60" y2="245.00" stroke="#000" stroke-width="1.3" />
<text x="22.30" y="248.00" font-size="8.2" fill="#222" text-anchor="end" >6</text>
<line x1="61.10" y1="420.20" x2="61.10" y2="426.20" stroke="#000" stroke-width="1.3" />
<line x1="89.90" y1="420.20" x2="89.90" y2="426.20" stroke="#000" stroke-width="1.3" />
<line x1="118.60" y1="420.20" x2="118.60" y2="426.20" stroke="#000" stroke-width="1.3" />
<line x1="147.40" y1="420.20" x2="147.40" y2="426.20" stroke="#000" stroke-width="1.3" />
<text x="54.60" y="438.20" font-size="10.0" fill="#222" text-anchor="middle" >Wild type</text>
<text x="90.90" y="438.20" font-size="10.0" fill="#222" text-anchor="middle" font-style="italic">axr2</text>
<text x="119.50" y="438.20" font-size="10.0" fill="#222" text-anchor="middle" >#10</text>
<text x="147.80" y="438.20" font-size="10.0" fill="#222" text-anchor="middle" font-style="italic">#3</text>
<text transform="translate(12.9,321.6) rotate(-90)" font-size="10.45" text-anchor="middle" fill="#222">Hypocotyl length (mm)</text>
<line x1="266.24" y1="234.20" x2="266.24" y2="416.00" stroke="#dedede" stroke-width="0.9" stroke-dasharray="1.2,1.2"/>
<line x1="323.61" y1="234.20" x2="323.61" y2="416.00" stroke="#dedede" stroke-width="0.9" stroke-dasharray="1.2,1.2"/>
<line x1="380.99" y1="234.20" x2="380.99" y2="416.00" stroke="#dedede" stroke-width="0.9" stroke-dasharray="1.2,1.2"/>
<line x1="438.36" y1="234.20" x2="438.36" y2="416.00" stroke="#dedede" stroke-width="0.9" stroke-dasharray="1.2,1.2"/>
<line x1="226.20" y1="387.60" x2="478.30" y2="387.60" stroke="#dedede" stroke-width="0.9" stroke-dasharray="1.2,1.2"/>
<line x1="226.20" y1="347.60" x2="478.30" y2="347.60" stroke="#dedede" stroke-width="0.9" stroke-dasharray="1.2,1.2"/>
<line x1="226.20" y1="307.60" x2="478.30" y2="307.60" stroke="#dedede" stroke-width="0.9" stroke-dasharray="1.2,1.2"/>
<line x1="226.20" y1="267.60" x2="478.30" y2="267.60" stroke="#dedede" stroke-width="0.9" stroke-dasharray="1.2,1.2"/>
<line x1="226.20" y1="234.20" x2="478.30" y2="234.20" stroke="#ababab" stroke-width="1.0" />
<line x1="478.30" y1="234.20" x2="478.30" y2="416.00" stroke="#ababab" stroke-width="1.0" />
<rect x="285.36" y="404.00" width="9.56" height="3.60" fill="#b3b3b3"/>
<rect x="314.05" y="404.00" width="9.56" height="3.60" fill="#b3b3b3"/>
<rect x="323.61" y="403.60" width="9.56" height="4.00" fill="#b3b3b3"/>
<rect x="333.18" y="385.60" width="9.56" height="22.00" fill="#b3b3b3"/>
<rect x="342.74" y="342.00" width="9.56" height="65.60" fill="#b3b3b3"/>
<rect x="352.30" y="270.40" width="9.56" height="137.20" fill="#b3b3b3"/>
<rect x="361.86" y="376.80" width="9.56" height="30.80" fill="#b3b3b3"/>
<rect x="457.49" y="405.60" width="9.56" height="2.00" fill="#b3b3b3"/>
<rect x="237.55" y="392.80" width="9.56" height="14.80" fill="none" stroke="#111" stroke-width="1.2"/>
<rect x="247.11" y="400.40" width="9.56" height="7.20" fill="none" stroke="#111" stroke-width="1.2"/>
<rect x="256.68" y="392.80" width="9.56" height="14.80" fill="none" stroke="#111" stroke-width="1.2"/>
<rect x="266.24" y="403.80" width="9.56" height="3.80" fill="none" stroke="#111" stroke-width="1.2"/>
<rect x="275.80" y="403.80" width="9.56" height="3.80" fill="none" stroke="#111" stroke-width="1.2"/>
<rect x="285.36" y="405.20" width="9.56" height="2.40" fill="none" stroke="#111" stroke-width="1.2"/>
<rect x="294.93" y="400.40" width="9.56" height="7.20" fill="none" stroke="#111" stroke-width="1.2"/>
<rect x="304.49" y="400.40" width="9.56" height="7.20" fill="none" stroke="#111" stroke-width="1.2"/>
<rect x="314.05" y="398.00" width="9.56" height="9.60" fill="none" stroke="#111" stroke-width="1.2"/>
<rect x="323.61" y="395.60" width="9.56" height="12.00" fill="none" stroke="#111" stroke-width="1.2"/>
<rect x="333.18" y="392.80" width="9.56" height="14.80" fill="none" stroke="#111" stroke-width="1.2"/>
<rect x="342.74" y="400.80" width="9.56" height="6.80" fill="none" stroke="#111" stroke-width="1.2"/>
<rect x="352.30" y="377.20" width="9.56" height="30.40" fill="none" stroke="#111" stroke-width="1.2"/>
<rect x="361.86" y="385.20" width="9.56" height="22.40" fill="none" stroke="#111" stroke-width="1.2"/>
<rect x="371.43" y="393.20" width="9.56" height="14.40" fill="none" stroke="#111" stroke-width="1.2"/>
<rect x="390.55" y="390.40" width="9.56" height="17.20" fill="none" stroke="#111" stroke-width="1.2"/>
<rect x="400.11" y="395.60" width="9.56" height="12.00" fill="none" stroke="#111" stroke-width="1.2"/>
<rect x="409.68" y="398.00" width="9.56" height="9.60" fill="none" stroke="#111" stroke-width="1.2"/>
<rect x="419.24" y="398.00" width="9.56" height="9.60" fill="none" stroke="#111" stroke-width="1.2"/>
<rect x="428.80" y="400.40" width="9.56" height="7.20" fill="none" stroke="#111" stroke-width="1.2"/>
<rect x="438.36" y="392.80" width="9.56" height="14.80" fill="none" stroke="#111" stroke-width="1.2"/>
<rect x="447.93" y="400.40" width="9.56" height="7.20" fill="none" stroke="#111" stroke-width="1.2"/>
<rect x="457.49" y="405.20" width="9.56" height="2.40" fill="none" stroke="#111" stroke-width="1.2"/>
<line x1="236.95" y1="407.60" x2="467.65" y2="407.60" stroke="#111" stroke-width="1.3" />
<line x1="226.20" y1="233.70" x2="226.20" y2="416.60" stroke="#1a1a1a" stroke-width="1.3" />
<line x1="225.60" y1="416.00" x2="478.80" y2="416.00" stroke="#1a1a1a" stroke-width="1.3" />
<line x1="220.60" y1="407.60" x2="226.20" y2="407.60" stroke="#1a1a1a" stroke-width="1.2" />
<text x="216.40" y="410.80" font-size="8.8" fill="#3a3a3a" text-anchor="end" >0.00</text>
<line x1="220.60" y1="367.60" x2="226.20" y2="367.60" stroke="#1a1a1a" stroke-width="1.2" />
<text x="216.40" y="370.80" font-size="8.8" fill="#3a3a3a" text-anchor="end" >0.01</text>
<line x1="220.60" y1="327.60" x2="226.20" y2="327.60" stroke="#1a1a1a" stroke-width="1.2" />
<text x="216.40" y="330.80" font-size="8.8" fill="#3a3a3a" text-anchor="end" >0.02</text>
<line x1="220.60" y1="287.60" x2="226.20" y2="287.60" stroke="#1a1a1a" stroke-width="1.2" />
<text x="216.40" y="290.80" font-size="8.8" fill="#3a3a3a" text-anchor="end" >0.03</text>
<line x1="220.60" y1="247.60" x2="226.20" y2="247.60" stroke="#1a1a1a" stroke-width="1.2" />
<text x="216.40" y="250.80" font-size="8.8" fill="#3a3a3a" text-anchor="end" >0.04</text>
<line x1="237.55" y1="416.00" x2="237.55" y2="421.70" stroke="#1a1a1a" stroke-width="1.2" />
<text x="237.55" y="432.20" font-size="8.6" fill="#3a3a3a" text-anchor="middle" >-180</text>
<line x1="294.93" y1="416.00" x2="294.93" y2="421.70" stroke="#1a1a1a" stroke-width="1.2" />
<text x="294.93" y="432.20" font-size="8.6" fill="#3a3a3a" text-anchor="middle" >-90</text>
<line x1="352.30" y1="416.00" x2="352.30" y2="421.70" stroke="#1a1a1a" stroke-width="1.2" />
<text x="352.30" y="432.20" font-size="8.6" fill="#3a3a3a" text-anchor="middle" >0</text>
<line x1="409.68" y1="416.00" x2="409.68" y2="421.70" stroke="#1a1a1a" stroke-width="1.2" />
<text x="409.68" y="432.20" font-size="8.6" fill="#3a3a3a" text-anchor="middle" >90</text>
<line x1="467.05" y1="416.00" x2="467.05" y2="421.70" stroke="#1a1a1a" stroke-width="1.2" />
<text x="467.05" y="432.20" font-size="8.6" fill="#3a3a3a" text-anchor="middle" >180</text>
<text x="352.30" y="445.00" font-size="10.3" fill="#000" text-anchor="middle" >Growth angle (degree)</text>
<text transform="translate(195.7,325) rotate(-90)" font-size="10.2" text-anchor="middle" fill="#000">Density</text>
<text x="181.00" y="244.40" font-size="16.5" fill="#000" text-anchor="start" font-weight="bold">e</text>
<line x1="571.24" y1="234.20" x2="571.24" y2="416.00" stroke="#dedede" stroke-width="0.9" stroke-dasharray="1.2,1.2"/>
<line x1="628.61" y1="234.20" x2="628.61" y2="416.00" stroke="#dedede" stroke-width="0.9" stroke-dasharray="1.2,1.2"/>
<line x1="685.99" y1="234.20" x2="685.99" y2="416.00" stroke="#dedede" stroke-width="0.9" stroke-dasharray="1.2,1.2"/>
<line x1="743.36" y1="234.20" x2="743.36" y2="416.00" stroke="#dedede" stroke-width="0.9" stroke-dasharray="1.2,1.2"/>
<line x1="531.20" y1="387.60" x2="784.20" y2="387.60" stroke="#dedede" stroke-width="0.9" stroke-dasharray="1.2,1.2"/>
<line x1="531.20" y1="347.60" x2="784.20" y2="347.60" stroke="#dedede" stroke-width="0.9" stroke-dasharray="1.2,1.2"/>
<line x1="531.20" y1="307.60" x2="784.20" y2="307.60" stroke="#dedede" stroke-width="0.9" stroke-dasharray="1.2,1.2"/>
<line x1="531.20" y1="267.60" x2="784.20" y2="267.60" stroke="#dedede" stroke-width="0.9" stroke-dasharray="1.2,1.2"/>
<line x1="531.20" y1="234.20" x2="784.20" y2="234.20" stroke="#ababab" stroke-width="1.0" />
<line x1="784.20" y1="234.20" x2="784.20" y2="416.00" stroke="#ababab" stroke-width="1.0" />
<rect x="676.42" y="402.80" width="9.56" height="4.80" fill="#b3b3b3"/>
<rect x="695.55" y="351.20" width="9.56" height="56.40" fill="#b3b3b3"/>
<rect x="705.11" y="243.60" width="9.56" height="164.00" fill="#b3b3b3"/>
<rect x="714.67" y="368.40" width="9.56" height="39.20" fill="#b3b3b3"/>
<rect x="542.55" y="404.00" width="9.56" height="3.60" fill="none" stroke="#111" stroke-width="1.2"/>
<rect x="552.11" y="404.00" width="9.56" height="3.60" fill="none" stroke="#111" stroke-width="1.2"/>
<rect x="580.80" y="404.00" width="9.56" height="3.60" fill="none" stroke="#111" stroke-width="1.2"/>
<rect x="590.36" y="404.00" width="9.56" height="3.60" fill="none" stroke="#111" stroke-width="1.2"/>
<rect x="599.92" y="396.40" width="9.56" height="11.20" fill="none" stroke="#111" stroke-width="1.2"/>
<rect x="609.49" y="392.40" width="9.56" height="15.20" fill="none" stroke="#111" stroke-width="1.2"/>
<rect x="619.05" y="376.40" width="9.56" height="31.20" fill="none" stroke="#111" stroke-width="1.2"/>
<rect x="628.61" y="400.40" width="9.56" height="7.20" fill="none" stroke="#111" stroke-width="1.2"/>
<rect x="638.17" y="396.40" width="9.56" height="11.20" fill="none" stroke="#111" stroke-width="1.2"/>
<rect x="647.74" y="380.00" width="9.56" height="27.60" fill="none" stroke="#111" stroke-width="1.2"/>
<rect x="657.30" y="388.00" width="9.56" height="19.60" fill="none" stroke="#111" stroke-width="1.2"/>
<rect x="666.86" y="396.80" width="9.56" height="10.80" fill="none" stroke="#111" stroke-width="1.2"/>
<rect x="676.42" y="396.80" width="9.56" height="10.80" fill="none" stroke="#111" stroke-width="1.2"/>
<rect x="685.99" y="384.00" width="9.56" height="23.60" fill="none" stroke="#111" stroke-width="1.2"/>
<rect x="695.55" y="392.40" width="9.56" height="15.20" fill="none" stroke="#111" stroke-width="1.2"/>
<rect x="705.11" y="400.80" width="9.56" height="6.80" fill="none" stroke="#111" stroke-width="1.2"/>
<rect x="714.67" y="404.00" width="9.56" height="3.60" fill="none" stroke="#111" stroke-width="1.2"/>
<rect x="724.24" y="396.80" width="9.56" height="10.80" fill="none" stroke="#111" stroke-width="1.2"/>
<rect x="733.80" y="396.80" width="9.56" height="10.80" fill="none" stroke="#111" stroke-width="1.2"/>
<rect x="752.92" y="392.40" width="9.56" height="15.20" fill="none" stroke="#111" stroke-width="1.2"/>
<rect x="762.49" y="400.80" width="9.56" height="6.80" fill="none" stroke="#111" stroke-width="1.2"/>
<line x1="541.95" y1="407.60" x2="772.65" y2="407.60" stroke="#111" stroke-width="1.3" />
<line x1="531.20" y1="233.70" x2="531.20" y2="416.60" stroke="#1a1a1a" stroke-width="1.3" />
<line x1="530.60" y1="416.00" x2="784.70" y2="416.00" stroke="#1a1a1a" stroke-width="1.3" />
<line x1="525.60" y1="407.60" x2="531.20" y2="407.60" stroke="#1a1a1a" stroke-width="1.2" />
<text x="521.40" y="410.80" font-size="8.8" fill="#3a3a3a" text-anchor="end" >0.00</text>
<line x1="525.60" y1="367.60" x2="531.20" y2="367.60" stroke="#1a1a1a" stroke-width="1.2" />
<text x="521.40" y="370.80" font-size="8.8" fill="#3a3a3a" text-anchor="end" >0.01</text>
<line x1="525.60" y1="327.60" x2="531.20" y2="327.60" stroke="#1a1a1a" stroke-width="1.2" />
<text x="521.40" y="330.80" font-size="8.8" fill="#3a3a3a" text-anchor="end" >0.02</text>
<line x1="525.60" y1="287.60" x2="531.20" y2="287.60" stroke="#1a1a1a" stroke-width="1.2" />
<text x="521.40" y="290.80" font-size="8.8" fill="#3a3a3a" text-anchor="end" >0.03</text>
<line x1="525.60" y1="247.60" x2="531.20" y2="247.60" stroke="#1a1a1a" stroke-width="1.2" />
<text x="521.40" y="250.80" font-size="8.8" fill="#3a3a3a" text-anchor="end" >0.04</text>
<line x1="542.55" y1="416.00" x2="542.55" y2="421.70" stroke="#1a1a1a" stroke-width="1.2" />
<text x="542.55" y="432.20" font-size="8.6" fill="#3a3a3a" text-anchor="middle" >-180</text>
<line x1="599.92" y1="416.00" x2="599.92" y2="421.70" stroke="#1a1a1a" stroke-width="1.2" />
<text x="599.92" y="432.20" font-size="8.6" fill="#3a3a3a" text-anchor="middle" >-90</text>
<line x1="657.30" y1="416.00" x2="657.30" y2="421.70" stroke="#1a1a1a" stroke-width="1.2" />
<text x="657.30" y="432.20" font-size="8.6" fill="#3a3a3a" text-anchor="middle" >0</text>
<line x1="714.67" y1="416.00" x2="714.67" y2="421.70" stroke="#1a1a1a" stroke-width="1.2" />
<text x="714.67" y="432.20" font-size="8.6" fill="#3a3a3a" text-anchor="middle" >90</text>
<line x1="772.05" y1="416.00" x2="772.05" y2="421.70" stroke="#1a1a1a" stroke-width="1.2" />
<text x="772.05" y="432.20" font-size="8.6" fill="#3a3a3a" text-anchor="middle" >180</text>
<text x="657.30" y="445.00" font-size="10.3" fill="#000" text-anchor="middle" >Growth angle (degree)</text>
<text transform="translate(500.7,325) rotate(-90)" font-size="10.2" text-anchor="middle" fill="#000">Density</text>
<text x="488.20" y="244.40" font-size="16.5" fill="#000" text-anchor="start" font-weight="bold">f</text>
<text x="618.60" y="21.80" font-size="16.5" fill="#000" text-anchor="start" font-weight="bold">c</text>
<defs>
<filter id="b1" x="-50%" y="-50%" width="200%" height="200%"><feGaussianBlur stdDeviation="0.9"/></filter>
<filter id="b2" x="-50%" y="-50%" width="200%" height="200%"><feGaussianBlur stdDeviation="1.8"/></filter>
<filter id="b3" x="-50%" y="-50%" width="200%" height="200%"><feGaussianBlur stdDeviation="3"/></filter>
<filter id="b05" x="-50%" y="-50%" width="200%" height="200%"><feGaussianBlur stdDeviation="0.6"/></filter>
<filter id="bx" x="-50%" y="-5%" width="200%" height="110%"><feGaussianBlur stdDeviation="1.1 0"/></filter>
<clipPath id="ct"><rect x="644.3" y="0" width="112.7" height="112.9"/></clipPath>
<clipPath id="cb"><rect x="644.3" y="112.9" width="112.7" height="112.6"/></clipPath>
</defs>
<g clip-path="url(#ct)">
<rect x="644.3" y="0" width="112.7" height="112.9" fill="#7f7e70"/>
<rect x="644.3" y="0" width="2" height="112.9" fill="#67675b"/>
<path d="M654.6,-5 L747.6,-5 L746,118 L652.8,118 Z" fill="#5a6a4e"/>
<rect x="654.6" y="-5" width="3.40" height="125" fill="#6a8c5e"/>
<rect x="658.0" y="-5" width="10.50" height="125" fill="#4e6145"/>
<rect x="668.5" y="-5" width="8.50" height="125" fill="#62785a"/>
<rect x="677" y="-5" width="10.00" height="125" fill="#5f6b51"/>
<rect x="687" y="-5" width="4.50" height="125" fill="#4b5b41"/>
<rect x="691.5" y="-5" width="18.80" height="125" fill="#4a5e42"/>
<rect x="710.3" y="-5" width="8.50" height="125" fill="#6e7a5e"/>
<rect x="718.8" y="-5" width="11.60" height="125" fill="#777c67"/>
<rect x="730.4" y="-5" width="12.90" height="125" fill="#586649"/>
<rect x="743.3" y="-5" width="4.30" height="125" fill="#68815d"/>
<rect x="663" y="-5" width="1.3" height="125" fill="#48573d"/>
<rect x="671" y="-5" width="1.3" height="125" fill="#6e8264"/>
<rect x="675.5" y="-5" width="1.3" height="125" fill="#58634c"/>
<rect x="681" y="-5" width="1.3" height="125" fill="#6a745c"/>
<rect x="684.5" y="-5" width="1.3" height="125" fill="#505d45"/>
<rect x="714" y="-5" width="1.3" height="125" fill="#77816a"/>
<rect x="722" y="-5" width="1.3" height="125" fill="#7b7f6a"/>
<rect x="726" y="-5" width="1.3" height="125" fill="#646a57"/>
<rect x="733" y="-5" width="1.3" height="125" fill="#6c7560"/>
<rect x="737" y="-5" width="1.3" height="125" fill="#56634a"/>
<rect x="740" y="-5" width="1.3" height="125" fill="#64745a"/>
</g>
<line x1="729" y1="29" x2="738" y2="26.5" stroke="#4a5240" stroke-width="0.9" opacity="0.7" filter="url(#b05)"/>
<line x1="664" y1="83" x2="676" y2="80" stroke="#4a5240" stroke-width="0.9" opacity="0.7" filter="url(#b05)"/>
<line x1="742" y1="14" x2="746" y2="12" stroke="#4a5240" stroke-width="0.9" opacity="0.7" filter="url(#b05)"/>
<line x1="668" y1="44" x2="674" y2="46" stroke="#4a5240" stroke-width="0.9" opacity="0.7" filter="url(#b05)"/>
<line x1="716" y1="96" x2="724" y2="94" stroke="#4a5240" stroke-width="0.9" opacity="0.7" filter="url(#b05)"/>
<line x1="680" y1="60" x2="686" y2="58" stroke="#4a5240" stroke-width="0.9" opacity="0.7" filter="url(#b05)"/>
<line x1="733" y1="70" x2="740" y2="73" stroke="#4a5240" stroke-width="0.9" opacity="0.7" filter="url(#b05)"/>
<rect x="691" y="-5" width="20" height="125" fill="#3a7e30" filter="url(#b3)" opacity="0.45"/>
<ellipse cx="695.8" cy="2" rx="3.30" ry="4.42" fill="#3cc836" opacity="0.45" filter="url(#b2)"/>
<ellipse cx="707.3" cy="2" rx="3.96" ry="5.44" fill="#3cc836" opacity="0.45" filter="url(#b2)"/>
<ellipse cx="706.2" cy="16.8" rx="3.08" ry="4.08" fill="#3cc836" opacity="0.45" filter="url(#b2)"/>
<ellipse cx="694.7" cy="28.3" rx="3.30" ry="5.10" fill="#3cc836" opacity="0.45" filter="url(#b2)"/>
<ellipse cx="692.8" cy="40.5" rx="3.08" ry="4.42" fill="#3cc836" opacity="0.45" filter="url(#b2)"/>
<ellipse cx="708" cy="39.8" rx="2.42" ry="3.74" fill="#3cc836" opacity="0.45" filter="url(#b2)"/>
<ellipse cx="712.2" cy="47.4" rx="2.64" ry="4.42" fill="#3cc836" opacity="0.45" filter="url(#b2)"/>
<ellipse cx="733.3" cy="53.5" rx="2.64" ry="2.04" fill="#3cc836" opacity="0.45" filter="url(#b2)"/>
<ellipse cx="702.4" cy="65.4" rx="2.64" ry="4.08" fill="#3cc836" opacity="0.45" filter="url(#b2)"/>
<ellipse cx="707" cy="73.3" rx="4.40" ry="3.06" fill="#3cc836" opacity="0.45" filter="url(#b2)"/>
<ellipse cx="692.6" cy="76.5" rx="3.08" ry="4.42" fill="#3cc836" opacity="0.45" filter="url(#b2)"/>
<ellipse cx="688.3" cy="92.6" rx="3.08" ry="4.42" fill="#3cc836" opacity="0.45" filter="url(#b2)"/>
<ellipse cx="706.8" cy="90.5" rx="1.98" ry="3.40" fill="#3cc836" opacity="0.45" filter="url(#b2)"/>
<ellipse cx="744.4" cy="65" rx="1.98" ry="2.21" fill="#3cc836" opacity="0.45" filter="url(#b2)"/>
<ellipse cx="693.5" cy="111" rx="2.86" ry="2.21" fill="#3cc836" opacity="0.45" filter="url(#b2)"/>
<ellipse cx="655.3" cy="9.2" rx="1.76" ry="2.38" fill="#3cc836" opacity="0.45" filter="url(#b2)"/>
<ellipse cx="744" cy="84" rx="1.98" ry="2.21" fill="#3cc836" opacity="0.45" filter="url(#b2)"/>
<ellipse cx="707" cy="103" rx="1.98" ry="2.72" fill="#3cc836" opacity="0.45" filter="url(#b2)"/>
<ellipse cx="695.8" cy="2" rx="1.5" ry="2.6" fill="#48f040" filter="url(#b05)"/>
<ellipse cx="707.3" cy="2" rx="1.8" ry="3.2" fill="#48f040" filter="url(#b05)"/>
<ellipse cx="706.2" cy="16.8" rx="1.4" ry="2.4" fill="#48f040" filter="url(#b05)"/>
<ellipse cx="694.7" cy="28.3" rx="1.5" ry="3.0" fill="#48f040" filter="url(#b05)"/>
<ellipse cx="692.8" cy="40.5" rx="1.4" ry="2.6" fill="#48f040" filter="url(#b05)"/>
<ellipse cx="708" cy="39.8" rx="1.1" ry="2.2" fill="#48f040" filter="url(#b05)"/>
<ellipse cx="712.2" cy="47.4" rx="1.2" ry="2.6" fill="#48f040" filter="url(#b05)"/>
<ellipse cx="733.3" cy="53.5" rx="1.2" ry="1.2" fill="#48f040" filter="url(#b05)"/>
<ellipse cx="702.4" cy="65.4" rx="1.2" ry="2.4" fill="#48f040" filter="url(#b05)"/>
<ellipse cx="707" cy="73.3" rx="2.0" ry="1.8" fill="#48f040" filter="url(#b05)"/>
<ellipse cx="692.6" cy="76.5" rx="1.4" ry="2.6" fill="#48f040" filter="url(#b05)"/>
<ellipse cx="688.3" cy="92.6" rx="1.4" ry="2.6" fill="#48f040" filter="url(#b05)"/>
<ellipse cx="706.8" cy="90.5" rx="0.9" ry="2.0" fill="#48f040" filter="url(#b05)"/>
<ellipse cx="744.4" cy="65" rx="0.9" ry="1.3" fill="#48f040" filter="url(#b05)"/>
<ellipse cx="693.5" cy="111" rx="1.3" ry="1.3" fill="#48f040" filter="url(#b05)"/>
<ellipse cx="655.3" cy="9.2" rx="0.8" ry="1.4" fill="#48f040" filter="url(#b05)"/>
<ellipse cx="744" cy="84" rx="0.9" ry="1.3" fill="#48f040" filter="url(#b05)"/>
<ellipse cx="707" cy="103" rx="0.9" ry="1.6" fill="#48f040" filter="url(#b05)"/>
</g>
<g clip-path="url(#cb)">
<rect x="644.3" y="112.9" width="112.7" height="112.6" fill="#767467"/>
<rect x="700" y="150" width="60" height="80" fill="#7b786c" filter="url(#b3)" opacity="0.7"/>
<path d="M726.0,112.0 L720.5,123.4 L701.7,155.6 L693.7,163.7 L680.3,179.8 L666.8,195.9 L660.1,209.3 L659.5,217.0 L662.8,221.4 L666.8,218.7 L677.6,209.3 L688.3,198.6 L701.7,182.5 L717.9,163.7 L731.3,147.6 L747.4,134.2 L758.0,124.8 L765.0,118.0 Z" fill="#7b7b6d" stroke="#5e6154" stroke-width="1.1" stroke-linejoin="round" filter="url(#b05)"/>
<path d="M728.3,113.1 L722.8,124.7 L703.9,157.0 L695.6,165.4 L682.3,181.5 L668.9,197.4 L662.4,210.5" fill="none" stroke="#5f6356" stroke-width="0.9" filter="url(#b05)"/>
<path d="M763.2,116.1 L756.2,122.9 L745.7,132.2 L729.5,145.8 L715.9,162.0 L699.7,180.8 L686.4,196.9 L675.8,207.5" fill="none" stroke="#5f6356" stroke-width="0.9" filter="url(#b05)"/>
<path d="M761.8,114.7 L754.9,121.4 L744.4,130.7 L728.0,144.3 L714.4,160.7 L698.2,179.5 L684.9,195.5 L674.3,206.0" fill="none" stroke="#5f6356" stroke-width="0.9" filter="url(#b05)"/>
<path d="M752.0,113.0 L745.0,118.0 L734.0,136.0 L716.5,152.0 L705.8,163.7 L691.0,181.0 L677.5,197.0 L669.0,209.0" fill="none" stroke="#3f8c34" stroke-width="9" stroke-linecap="round" filter="url(#b2)" opacity="0.55"/>
<ellipse cx="663" cy="215" rx="4" ry="5" fill="#5a5d4e" filter="url(#b1)" opacity="0.6"/>
<circle cx="747.9" cy="120.8" r="1.3" fill="#44f03e" opacity="0.79" filter="url(#b05)"/>
<circle cx="741.4" cy="116.4" r="1.3" fill="#44f03e" opacity="0.85" filter="url(#b05)"/>
<circle cx="742.7" cy="119.9" r="1.3" fill="#44f03e" opacity="0.92" filter="url(#b05)"/>
<circle cx="745.3" cy="126.9" r="1.3" fill="#44f03e" opacity="0.86" filter="url(#b05)"/>
<circle cx="737.3" cy="122.4" r="1.3" fill="#44f03e" opacity="0.62" filter="url(#b05)"/>
<circle cx="741.6" cy="127.4" r="1.3" fill="#44f03e" opacity="0.79" filter="url(#b05)"/>
<circle cx="740.8" cy="131.7" r="1.3" fill="#44f03e" opacity="0.86" filter="url(#b05)"/>
<circle cx="736.2" cy="129.6" r="1.3" fill="#44f03e" opacity="0.94" filter="url(#b05)"/>
<circle cx="732.6" cy="130.2" r="1.3" fill="#44f03e" opacity="0.91" filter="url(#b05)"/>
<circle cx="737.1" cy="138.1" r="1.3" fill="#44f03e" opacity="0.98" filter="url(#b05)"/>
<circle cx="731.1" cy="134.7" r="1.3" fill="#44f03e" opacity="0.79" filter="url(#b05)"/>
<circle cx="729.7" cy="136.6" r="1.3" fill="#44f03e" opacity="0.71" filter="url(#b05)"/>
<circle cx="730.7" cy="144.1" r="1.3" fill="#44f03e" opacity="0.90" filter="url(#b05)"/>
<circle cx="728.3" cy="139.5" r="1.3" fill="#44f03e" opacity="0.62" filter="url(#b05)"/>
<circle cx="728.8" cy="145.1" r="1.3" fill="#44f03e" opacity="0.68" filter="url(#b05)"/>
<circle cx="724.7" cy="139.5" r="1.3" fill="#44f03e" opacity="0.77" filter="url(#b05)"/>
<circle cx="725.6" cy="148.7" r="1.3" fill="#44f03e" opacity="0.92" filter="url(#b05)"/>
<circle cx="723.4" cy="150.7" r="1.3" fill="#44f03e" opacity="0.86" filter="url(#b05)"/>
<circle cx="722.8" cy="146.7" r="1.3" fill="#44f03e" opacity="0.70" filter="url(#b05)"/>
<circle cx="720.6" cy="151.0" r="1.3" fill="#44f03e" opacity="0.64" filter="url(#b05)"/>
<circle cx="717.1" cy="147.0" r="1.3" fill="#44f03e" opacity="0.78" filter="url(#b05)"/>
<circle cx="715.1" cy="149.0" r="1.3" fill="#44f03e" opacity="0.66" filter="url(#b05)"/>
<circle cx="710.7" cy="153.4" r="1.3" fill="#44f03e" opacity="0.98" filter="url(#b05)"/>
<circle cx="714.7" cy="161.0" r="1.3" fill="#44f03e" opacity="0.84" filter="url(#b05)"/>
<circle cx="707.6" cy="156.9" r="1.3" fill="#44f03e" opacity="0.70" filter="url(#b05)"/>
<circle cx="709.3" cy="161.0" r="1.3" fill="#44f03e" opacity="0.72" filter="url(#b05)"/>
<circle cx="706.7" cy="157.5" r="1.3" fill="#44f03e" opacity="0.69" filter="url(#b05)"/>
<circle cx="709.1" cy="166.1" r="1.3" fill="#44f03e" opacity="0.71" filter="url(#b05)"/>
<circle cx="702.1" cy="161.0" r="1.3" fill="#44f03e" opacity="0.78" filter="url(#b05)"/>
<circle cx="704.9" cy="168.3" r="1.3" fill="#44f03e" opacity="0.83" filter="url(#b05)"/>
<circle cx="703.0" cy="167.6" r="1.3" fill="#44f03e" opacity="0.99" filter="url(#b05)"/>
<circle cx="697.2" cy="166.1" r="1.3" fill="#44f03e" opacity="0.96" filter="url(#b05)"/>
<circle cx="696.3" cy="170.2" r="1.3" fill="#44f03e" opacity="0.89" filter="url(#b05)"/>
<circle cx="699.7" cy="176.2" r="1.3" fill="#44f03e" opacity="0.82" filter="url(#b05)"/>
<circle cx="687.1" cy="182.5" r="1.3" fill="#44f03e" opacity="0.83" filter="url(#b05)"/>
<circle cx="684.3" cy="183.2" r="1.3" fill="#44f03e" opacity="0.86" filter="url(#b05)"/>
<circle cx="685.1" cy="193.9" r="1.3" fill="#44f03e" opacity="0.78" filter="url(#b05)"/>
<circle cx="680.2" cy="188.4" r="1.3" fill="#44f03e" opacity="0.84" filter="url(#b05)"/>
<circle cx="681.5" cy="196.9" r="1.3" fill="#44f03e" opacity="0.80" filter="url(#b05)"/>
<circle cx="678.8" cy="198.3" r="1.3" fill="#44f03e" opacity="0.87" filter="url(#b05)"/>
<circle cx="676.6" cy="198.1" r="1.3" fill="#44f03e" opacity="0.86" filter="url(#b05)"/>
<circle cx="675.9" cy="194.7" r="1.3" fill="#44f03e" opacity="0.87" filter="url(#b05)"/>
<circle cx="677.8" cy="202.6" r="1.3" fill="#44f03e" opacity="0.97" filter="url(#b05)"/>
<circle cx="673.0" cy="197.7" r="1.3" fill="#44f03e" opacity="0.65" filter="url(#b05)"/>
<circle cx="676.7" cy="205.8" r="1.3" fill="#44f03e" opacity="0.88" filter="url(#b05)"/>
<circle cx="669.8" cy="201.0" r="1.3" fill="#44f03e" opacity="0.71" filter="url(#b05)"/>
<circle cx="673.5" cy="208.2" r="1.3" fill="#44f03e" opacity="0.80" filter="url(#b05)"/>
<rect x="722" y="215.5" width="26" height="2.3" fill="#fff"/>
</g>
</svg>
</body></html>
